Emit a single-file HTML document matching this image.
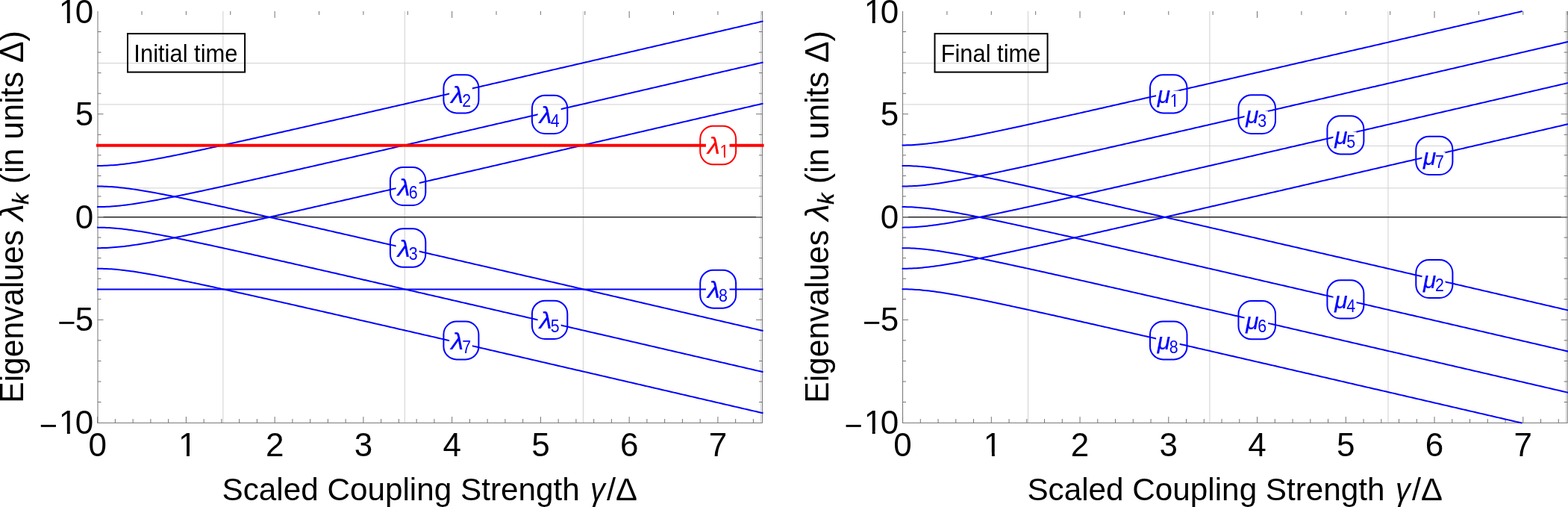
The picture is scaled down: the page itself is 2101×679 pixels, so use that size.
<!DOCTYPE html>
<html><head><meta charset="utf-8"><title>Eigenvalues</title>
<style>html,body{margin:0;padding:0;background:#fff;overflow:hidden}svg{display:block}</style>
</head><body>
<svg width="2101" height="679" viewBox="0 0 2101 679">
<rect width="2101" height="679" fill="#fff"/>
<g stroke="#d0d0d0" stroke-width="1"><line x1="298.89" y1="14.96" x2="298.89" y2="566.10"/><line x1="130.65" y1="251.88" x2="1021.27" y2="251.88"/><line x1="542.31" y1="14.96" x2="542.31" y2="566.10"/><line x1="130.65" y1="195.39" x2="1021.27" y2="195.39"/><line x1="781.37" y1="14.96" x2="781.37" y2="566.10"/><line x1="130.65" y1="139.91" x2="1021.27" y2="139.91"/><line x1="1019.59" y1="14.96" x2="1019.59" y2="566.10"/><line x1="130.65" y1="84.63" x2="1021.27" y2="84.63"/></g>
<line x1="130.65" y1="290.75" x2="1021.27" y2="290.75" stroke="#222" stroke-width="1.3"/>
<g stroke="#737373" stroke-width="1"><line x1="131.00" y1="14.96" x2="131.00" y2="566.10"/><line x1="130.15" y1="566.35" x2="1021.77" y2="566.35"/><line x1="1021.48" y1="14.96" x2="1021.48" y2="566.10"/><line x1="131.00" y1="538.54" x2="135.50" y2="538.54"/><line x1="1021.48" y1="538.54" x2="1016.98" y2="538.54"/><line x1="131.00" y1="510.99" x2="135.50" y2="510.99"/><line x1="1021.48" y1="510.99" x2="1016.98" y2="510.99"/><line x1="131.00" y1="483.43" x2="135.50" y2="483.43"/><line x1="1021.48" y1="483.43" x2="1016.98" y2="483.43"/><line x1="131.00" y1="455.87" x2="135.50" y2="455.87"/><line x1="1021.48" y1="455.87" x2="1016.98" y2="455.87"/><line x1="131.00" y1="428.31" x2="138.50" y2="428.31"/><line x1="1021.48" y1="428.31" x2="1012.98" y2="428.31"/><line x1="131.00" y1="400.76" x2="135.50" y2="400.76"/><line x1="1021.48" y1="400.76" x2="1016.98" y2="400.76"/><line x1="131.00" y1="373.20" x2="135.50" y2="373.20"/><line x1="1021.48" y1="373.20" x2="1016.98" y2="373.20"/><line x1="131.00" y1="345.64" x2="135.50" y2="345.64"/><line x1="1021.48" y1="345.64" x2="1016.98" y2="345.64"/><line x1="131.00" y1="318.09" x2="135.50" y2="318.09"/><line x1="1021.48" y1="318.09" x2="1016.98" y2="318.09"/><line x1="131.00" y1="290.53" x2="138.50" y2="290.53"/><line x1="1021.48" y1="290.53" x2="1012.98" y2="290.53"/><line x1="131.00" y1="262.97" x2="135.50" y2="262.97"/><line x1="1021.48" y1="262.97" x2="1016.98" y2="262.97"/><line x1="131.00" y1="235.42" x2="135.50" y2="235.42"/><line x1="1021.48" y1="235.42" x2="1016.98" y2="235.42"/><line x1="131.00" y1="207.86" x2="135.50" y2="207.86"/><line x1="1021.48" y1="207.86" x2="1016.98" y2="207.86"/><line x1="131.00" y1="180.30" x2="135.50" y2="180.30"/><line x1="1021.48" y1="180.30" x2="1016.98" y2="180.30"/><line x1="131.00" y1="152.74" x2="138.50" y2="152.74"/><line x1="1021.48" y1="152.74" x2="1012.98" y2="152.74"/><line x1="131.00" y1="125.19" x2="135.50" y2="125.19"/><line x1="1021.48" y1="125.19" x2="1016.98" y2="125.19"/><line x1="131.00" y1="97.63" x2="135.50" y2="97.63"/><line x1="1021.48" y1="97.63" x2="1016.98" y2="97.63"/><line x1="131.00" y1="70.07" x2="135.50" y2="70.07"/><line x1="1021.48" y1="70.07" x2="1016.98" y2="70.07"/><line x1="131.00" y1="42.52" x2="135.50" y2="42.52"/><line x1="1021.48" y1="42.52" x2="1016.98" y2="42.52"/><line x1="130.65" y1="566.10" x2="130.65" y2="558.10"/><line x1="154.40" y1="566.10" x2="154.40" y2="561.10"/><line x1="178.15" y1="566.10" x2="178.15" y2="561.10"/><line x1="201.90" y1="566.10" x2="201.90" y2="561.10"/><line x1="225.65" y1="566.10" x2="225.65" y2="561.10"/><line x1="249.40" y1="566.10" x2="249.40" y2="558.10"/><line x1="273.15" y1="566.10" x2="273.15" y2="561.10"/><line x1="296.90" y1="566.10" x2="296.90" y2="561.10"/><line x1="320.65" y1="566.10" x2="320.65" y2="561.10"/><line x1="344.40" y1="566.10" x2="344.40" y2="561.10"/><line x1="368.15" y1="566.10" x2="368.15" y2="558.10"/><line x1="391.90" y1="566.10" x2="391.90" y2="561.10"/><line x1="415.65" y1="566.10" x2="415.65" y2="561.10"/><line x1="439.40" y1="566.10" x2="439.40" y2="561.10"/><line x1="463.15" y1="566.10" x2="463.15" y2="561.10"/><line x1="486.90" y1="566.10" x2="486.90" y2="558.10"/><line x1="510.65" y1="566.10" x2="510.65" y2="561.10"/><line x1="534.40" y1="566.10" x2="534.40" y2="561.10"/><line x1="558.15" y1="566.10" x2="558.15" y2="561.10"/><line x1="581.90" y1="566.10" x2="581.90" y2="561.10"/><line x1="605.65" y1="566.10" x2="605.65" y2="558.10"/><line x1="629.40" y1="566.10" x2="629.40" y2="561.10"/><line x1="653.15" y1="566.10" x2="653.15" y2="561.10"/><line x1="676.90" y1="566.10" x2="676.90" y2="561.10"/><line x1="700.65" y1="566.10" x2="700.65" y2="561.10"/><line x1="724.40" y1="566.10" x2="724.40" y2="558.10"/><line x1="748.15" y1="566.10" x2="748.15" y2="561.10"/><line x1="771.90" y1="566.10" x2="771.90" y2="561.10"/><line x1="795.65" y1="566.10" x2="795.65" y2="561.10"/><line x1="819.40" y1="566.10" x2="819.40" y2="561.10"/><line x1="843.15" y1="566.10" x2="843.15" y2="558.10"/><line x1="866.90" y1="566.10" x2="866.90" y2="561.10"/><line x1="890.65" y1="566.10" x2="890.65" y2="561.10"/><line x1="914.40" y1="566.10" x2="914.40" y2="561.10"/><line x1="938.15" y1="566.10" x2="938.15" y2="561.10"/><line x1="961.90" y1="566.10" x2="961.90" y2="558.10"/><line x1="985.65" y1="566.10" x2="985.65" y2="561.10"/><line x1="1009.40" y1="566.10" x2="1009.40" y2="561.10"/><line x1="190.03" y1="14.96" x2="190.03" y2="19.96"/><line x1="249.40" y1="14.96" x2="249.40" y2="19.96"/><line x1="308.77" y1="14.96" x2="308.77" y2="19.96"/><line x1="368.15" y1="14.96" x2="368.15" y2="23.96"/><line x1="427.52" y1="14.96" x2="427.52" y2="19.96"/><line x1="486.90" y1="14.96" x2="486.90" y2="19.96"/><line x1="546.27" y1="14.96" x2="546.27" y2="19.96"/><line x1="605.65" y1="14.96" x2="605.65" y2="23.96"/><line x1="665.02" y1="14.96" x2="665.02" y2="19.96"/><line x1="724.40" y1="14.96" x2="724.40" y2="19.96"/><line x1="783.77" y1="14.96" x2="783.77" y2="19.96"/><line x1="843.15" y1="14.96" x2="843.15" y2="23.96"/><line x1="902.52" y1="14.96" x2="902.52" y2="19.96"/><line x1="961.90" y1="14.96" x2="961.90" y2="19.96"/><line x1="1021.27" y1="14.96" x2="1021.27" y2="19.96"/></g>
<path d="M130.95,221.96 L133.92,221.94 L136.89,221.89 L139.86,221.80 L142.83,221.68 L145.79,221.53 L148.76,221.35 L151.73,221.14 L154.70,220.90 L157.67,220.63 L160.64,220.33 L163.61,220.01 L166.58,219.67 L169.54,219.30 L172.51,218.92 L175.48,218.51 L178.45,218.09 L181.42,217.65 L184.39,217.20 L187.36,216.73 L190.33,216.25 L193.29,215.76 L196.26,215.25 L199.23,214.74 L202.20,214.21 L205.17,213.68 L208.14,213.14 L211.11,212.59 L214.08,212.03 L217.04,211.47 L220.01,210.90 L222.98,210.32 L225.95,209.74 L228.92,209.15 L231.89,208.56 L234.86,207.96 L237.83,207.36 L240.79,206.76 L243.76,206.15 L246.73,205.54 L249.70,204.93 L252.67,204.31 L255.64,203.69 L258.61,203.06 L261.58,202.44 L264.54,201.81 L267.51,201.18 L270.48,200.55 L273.45,199.91 L276.42,199.28 L279.39,198.64 L282.36,198.00 L285.33,197.35 L288.29,196.71 L291.26,196.06 L294.23,195.42 L297.20,194.77 L300.17,194.12 L303.14,193.47 L306.11,192.82 L309.08,192.16 L312.04,191.51 L315.01,190.86 L317.98,190.20 L320.95,189.54 L323.92,188.88 L326.89,188.23 L329.86,187.57 L332.83,186.90 L335.79,186.24 L338.76,185.58 L341.73,184.92 L344.70,184.26 L347.67,183.59 L350.64,182.93 L353.61,182.26 L356.58,181.60 L359.54,180.93 L362.51,180.26 L365.48,179.59 L368.45,178.93 L371.42,178.26 L374.39,177.59 L377.36,176.92 L380.33,176.25 L383.29,175.58 L386.26,174.91 L389.23,174.24 L392.20,173.56 L395.17,172.89 L398.14,172.22 L401.11,171.55 L404.08,170.87 L407.04,170.20 L410.01,169.53 L412.98,168.85 L415.95,168.18 L418.92,167.50 L421.89,166.83 L424.86,166.15 L427.83,165.48 L430.79,164.80 L433.76,164.13 L436.73,163.45 L439.70,162.77 L442.67,162.10 L445.64,161.42 L448.61,160.74 L451.58,160.07 L454.54,159.39 L457.51,158.71 L460.48,158.03 L463.45,157.36 L466.42,156.68 L469.39,156.00 L472.36,155.32 L475.33,154.64 L478.29,153.96 L481.26,153.28 L484.23,152.60 L487.20,151.92 L490.17,151.25 L493.14,150.57 L496.11,149.89 L499.08,149.21 L502.04,148.53 L505.01,147.84 L507.98,147.16 L510.95,146.48 L513.92,145.80 L516.89,145.12 L519.86,144.44 L522.83,143.76 L525.79,143.08 L528.76,142.40 L531.73,141.72 L534.70,141.03 L537.67,140.35 L540.64,139.67 L543.61,138.99 L546.58,138.31 L549.54,137.63 L552.51,136.94 L555.48,136.26 L558.45,135.58 L561.42,134.90 L564.39,134.21 L567.36,133.53 L570.33,132.85 L573.29,132.17 L576.26,131.48 L579.23,130.80 L582.20,130.12 L585.17,129.43 L588.14,128.75 L591.11,128.07 L594.08,127.38 L597.04,126.70 L600.01,126.02 L602.98,125.33 L605.95,124.65 L608.92,123.97 L611.89,123.28 L614.86,122.60 L617.82,121.92 L620.79,121.23 L623.76,120.55 L626.73,119.86 L629.70,119.18 L632.67,118.50 L635.64,117.81 L638.61,117.13 L641.58,116.44 L644.54,115.76 L647.51,115.07 L650.48,114.39 L653.45,113.70 L656.42,113.02 L659.39,112.34 L662.36,111.65 L665.33,110.97 L668.29,110.28 L671.26,109.60 L674.23,108.91 L677.20,108.23 L680.17,107.54 L683.14,106.86 L686.11,106.17 L689.08,105.49 L692.04,104.80 L695.01,104.12 L697.98,103.43 L700.95,102.75 L703.92,102.06 L706.89,101.38 L709.86,100.69 L712.83,100.01 L715.79,99.32 L718.76,98.63 L721.73,97.95 L724.70,97.26 L727.67,96.58 L730.64,95.89 L733.61,95.21 L736.58,94.52 L739.54,93.84 L742.51,93.15 L745.48,92.46 L748.45,91.78 L751.42,91.09 L754.39,90.41 L757.36,89.72 L760.33,89.04 L763.29,88.35 L766.26,87.66 L769.23,86.98 L772.20,86.29 L775.17,85.61 L778.14,84.92 L781.11,84.23 L784.08,83.55 L787.04,82.86 L790.01,82.18 L792.98,81.49 L795.95,80.80 L798.92,80.12 L801.89,79.43 L804.86,78.74 L807.83,78.06 L810.79,77.37 L813.76,76.69 L816.73,76.00 L819.70,75.31 L822.67,74.63 L825.64,73.94 L828.61,73.25 L831.58,72.57 L834.54,71.88 L837.51,71.19 L840.48,70.51 L843.45,69.82 L846.42,69.13 L849.39,68.45 L852.36,67.76 L855.33,67.07 L858.29,66.39 L861.26,65.70 L864.23,65.01 L867.20,64.33 L870.17,63.64 L873.14,62.95 L876.11,62.27 L879.08,61.58 L882.04,60.89 L885.01,60.21 L887.98,59.52 L890.95,58.83 L893.92,58.15 L896.89,57.46 L899.86,56.77 L902.83,56.09 L905.79,55.40 L908.76,54.71 L911.73,54.03 L914.70,53.34 L917.67,52.65 L920.64,51.96 L923.61,51.28 L926.58,50.59 L929.54,49.90 L932.51,49.22 L935.48,48.53 L938.45,47.84 L941.42,47.16 L944.39,46.47 L947.36,45.78 L950.33,45.09 L953.29,44.41 L956.26,43.72 L959.23,43.03 L962.20,42.35 L965.17,41.66 L968.14,40.97 L971.11,40.28 L974.08,39.60 L977.04,38.91 L980.01,38.22 L982.98,37.54 L985.95,36.85 L988.92,36.16 L991.89,35.47 L994.86,34.79 L997.83,34.10 L1000.79,33.41 L1003.76,32.72 L1006.73,32.04 L1009.70,31.35 L1012.67,30.66 L1015.64,29.97 L1018.61,29.29 L1021.58,28.60" fill="none" stroke="#0000ff" stroke-width="2" stroke-linejoin="round" stroke-linecap="square"/>
<path d="M130.95,249.51 L133.92,249.53 L136.89,249.58 L139.86,249.67 L142.83,249.79 L145.79,249.94 L148.76,250.12 L151.73,250.33 L154.70,250.58 L157.67,250.85 L160.64,251.14 L163.61,251.46 L166.58,251.80 L169.54,252.17 L172.51,252.55 L175.48,252.96 L178.45,253.38 L181.42,253.82 L184.39,254.27 L187.36,254.74 L190.33,255.22 L193.29,255.71 L196.26,256.22 L199.23,256.73 L202.20,257.26 L205.17,257.79 L208.14,258.33 L211.11,258.88 L214.08,259.44 L217.04,260.01 L220.01,260.58 L222.98,261.15 L225.95,261.73 L228.92,262.32 L231.89,262.91 L234.86,263.51 L237.83,264.11 L240.79,264.71 L243.76,265.32 L246.73,265.93 L249.70,266.55 L252.67,267.16 L255.64,267.78 L258.61,268.41 L261.58,269.03 L264.54,269.66 L267.51,270.29 L270.48,270.93 L273.45,271.56 L276.42,272.20 L279.39,272.84 L282.36,273.48 L285.33,274.12 L288.29,274.76 L291.26,275.41 L294.23,276.05 L297.20,276.70 L300.17,277.35 L303.14,278.00 L306.11,278.65 L309.08,279.31 L312.04,279.96 L315.01,280.62 L317.98,281.27 L320.95,281.93 L323.92,282.59 L326.89,283.25 L329.86,283.91 L332.83,284.57 L335.79,285.23 L338.76,285.89 L341.73,286.55 L344.70,287.22 L347.67,287.88 L350.64,288.55 L353.61,289.21 L356.58,289.88 L359.54,290.54 L362.51,291.21 L365.48,291.88 L368.45,292.55 L371.42,293.21 L374.39,293.88 L377.36,294.55 L380.33,295.22 L383.29,295.89 L386.26,296.56 L389.23,297.24 L392.20,297.91 L395.17,298.58 L398.14,299.25 L401.11,299.92 L404.08,300.60 L407.04,301.27 L410.01,301.94 L412.98,302.62 L415.95,303.29 L418.92,303.97 L421.89,304.64 L424.86,305.32 L427.83,305.99 L430.79,306.67 L433.76,307.34 L436.73,308.02 L439.70,308.70 L442.67,309.37 L445.64,310.05 L448.61,310.73 L451.58,311.40 L454.54,312.08 L457.51,312.76 L460.48,313.44 L463.45,314.12 L466.42,314.79 L469.39,315.47 L472.36,316.15 L475.33,316.83 L478.29,317.51 L481.26,318.19 L484.23,318.87 L487.20,319.55 L490.17,320.23 L493.14,320.91 L496.11,321.59 L499.08,322.27 L502.04,322.95 L505.01,323.63 L507.98,324.31 L510.95,324.99 L513.92,325.67 L516.89,326.35 L519.86,327.03 L522.83,327.71 L525.79,328.39 L528.76,329.07 L531.73,329.76 L534.70,330.44 L537.67,331.12 L540.64,331.80 L543.61,332.48 L546.58,333.16 L549.54,333.85 L552.51,334.53 L555.48,335.21 L558.45,335.89 L561.42,336.58 L564.39,337.26 L567.36,337.94 L570.33,338.62 L573.29,339.31 L576.26,339.99 L579.23,340.67 L582.20,341.36 L585.17,342.04 L588.14,342.72 L591.11,343.40 L594.08,344.09 L597.04,344.77 L600.01,345.45 L602.98,346.14 L605.95,346.82 L608.92,347.51 L611.89,348.19 L614.86,348.87 L617.82,349.56 L620.79,350.24 L623.76,350.92 L626.73,351.61 L629.70,352.29 L632.67,352.98 L635.64,353.66 L638.61,354.35 L641.58,355.03 L644.54,355.71 L647.51,356.40 L650.48,357.08 L653.45,357.77 L656.42,358.45 L659.39,359.14 L662.36,359.82 L665.33,360.51 L668.29,361.19 L671.26,361.88 L674.23,362.56 L677.20,363.24 L680.17,363.93 L683.14,364.61 L686.11,365.30 L689.08,365.98 L692.04,366.67 L695.01,367.35 L697.98,368.04 L700.95,368.73 L703.92,369.41 L706.89,370.10 L709.86,370.78 L712.83,371.47 L715.79,372.15 L718.76,372.84 L721.73,373.52 L724.70,374.21 L727.67,374.89 L730.64,375.58 L733.61,376.26 L736.58,376.95 L739.54,377.64 L742.51,378.32 L745.48,379.01 L748.45,379.69 L751.42,380.38 L754.39,381.06 L757.36,381.75 L760.33,382.44 L763.29,383.12 L766.26,383.81 L769.23,384.49 L772.20,385.18 L775.17,385.87 L778.14,386.55 L781.11,387.24 L784.08,387.92 L787.04,388.61 L790.01,389.30 L792.98,389.98 L795.95,390.67 L798.92,391.36 L801.89,392.04 L804.86,392.73 L807.83,393.41 L810.79,394.10 L813.76,394.79 L816.73,395.47 L819.70,396.16 L822.67,396.85 L825.64,397.53 L828.61,398.22 L831.58,398.91 L834.54,399.59 L837.51,400.28 L840.48,400.96 L843.45,401.65 L846.42,402.34 L849.39,403.02 L852.36,403.71 L855.33,404.40 L858.29,405.08 L861.26,405.77 L864.23,406.46 L867.20,407.14 L870.17,407.83 L873.14,408.52 L876.11,409.20 L879.08,409.89 L882.04,410.58 L885.01,411.26 L887.98,411.95 L890.95,412.64 L893.92,413.33 L896.89,414.01 L899.86,414.70 L902.83,415.39 L905.79,416.07 L908.76,416.76 L911.73,417.45 L914.70,418.13 L917.67,418.82 L920.64,419.51 L923.61,420.19 L926.58,420.88 L929.54,421.57 L932.51,422.26 L935.48,422.94 L938.45,423.63 L941.42,424.32 L944.39,425.00 L947.36,425.69 L950.33,426.38 L953.29,427.06 L956.26,427.75 L959.23,428.44 L962.20,429.13 L965.17,429.81 L968.14,430.50 L971.11,431.19 L974.08,431.88 L977.04,432.56 L980.01,433.25 L982.98,433.94 L985.95,434.62 L988.92,435.31 L991.89,436.00 L994.86,436.69 L997.83,437.37 L1000.79,438.06 L1003.76,438.75 L1006.73,439.44 L1009.70,440.12 L1012.67,440.81 L1015.64,441.50 L1018.61,442.18 L1021.58,442.87" fill="none" stroke="#0000ff" stroke-width="2" stroke-linejoin="round" stroke-linecap="square"/>
<path d="M130.95,277.07 L133.92,277.05 L136.89,277.00 L139.86,276.92 L142.83,276.80 L145.79,276.65 L148.76,276.46 L151.73,276.25 L154.70,276.01 L157.67,275.74 L160.64,275.45 L163.61,275.12 L166.58,274.78 L169.54,274.42 L172.51,274.03 L175.48,273.63 L178.45,273.20 L181.42,272.77 L184.39,272.31 L187.36,271.85 L190.33,271.36 L193.29,270.87 L196.26,270.37 L199.23,269.85 L202.20,269.33 L205.17,268.79 L208.14,268.25 L211.11,267.70 L214.08,267.14 L217.04,266.58 L220.01,266.01 L222.98,265.43 L225.95,264.85 L228.92,264.27 L231.89,263.67 L234.86,263.08 L237.83,262.48 L240.79,261.87 L243.76,261.27 L246.73,260.65 L249.70,260.04 L252.67,259.42 L255.64,258.80 L258.61,258.18 L261.58,257.55 L264.54,256.92 L267.51,256.29 L270.48,255.66 L273.45,255.03 L276.42,254.39 L279.39,253.75 L282.36,253.11 L285.33,252.47 L288.29,251.82 L291.26,251.18 L294.23,250.53 L297.20,249.88 L300.17,249.23 L303.14,248.58 L306.11,247.93 L309.08,247.28 L312.04,246.62 L315.01,245.97 L317.98,245.31 L320.95,244.66 L323.92,244.00 L326.89,243.34 L329.86,242.68 L332.83,242.02 L335.79,241.36 L338.76,240.70 L341.73,240.03 L344.70,239.37 L347.67,238.71 L350.64,238.04 L353.61,237.38 L356.58,236.71 L359.54,236.04 L362.51,235.38 L365.48,234.71 L368.45,234.04 L371.42,233.37 L374.39,232.70 L377.36,232.03 L380.33,231.36 L383.29,230.69 L386.26,230.02 L389.23,229.35 L392.20,228.68 L395.17,228.01 L398.14,227.33 L401.11,226.66 L404.08,225.99 L407.04,225.32 L410.01,224.64 L412.98,223.97 L415.95,223.29 L418.92,222.62 L421.89,221.94 L424.86,221.27 L427.83,220.59 L430.79,219.92 L433.76,219.24 L436.73,218.57 L439.70,217.89 L442.67,217.21 L445.64,216.54 L448.61,215.86 L451.58,215.18 L454.54,214.50 L457.51,213.83 L460.48,213.15 L463.45,212.47 L466.42,211.79 L469.39,211.11 L472.36,210.43 L475.33,209.76 L478.29,209.08 L481.26,208.40 L484.23,207.72 L487.20,207.04 L490.17,206.36 L493.14,205.68 L496.11,205.00 L499.08,204.32 L502.04,203.64 L505.01,202.96 L507.98,202.28 L510.95,201.60 L513.92,200.92 L516.89,200.24 L519.86,199.56 L522.83,198.87 L525.79,198.19 L528.76,197.51 L531.73,196.83 L534.70,196.15 L537.67,195.47 L540.64,194.79 L543.61,194.10 L546.58,193.42 L549.54,192.74 L552.51,192.06 L555.48,191.37 L558.45,190.69 L561.42,190.01 L564.39,189.33 L567.36,188.65 L570.33,187.96 L573.29,187.28 L576.26,186.60 L579.23,185.91 L582.20,185.23 L585.17,184.55 L588.14,183.86 L591.11,183.18 L594.08,182.50 L597.04,181.81 L600.01,181.13 L602.98,180.45 L605.95,179.76 L608.92,179.08 L611.89,178.40 L614.86,177.71 L617.82,177.03 L620.79,176.35 L623.76,175.66 L626.73,174.98 L629.70,174.29 L632.67,173.61 L635.64,172.93 L638.61,172.24 L641.58,171.56 L644.54,170.87 L647.51,170.19 L650.48,169.50 L653.45,168.82 L656.42,168.13 L659.39,167.45 L662.36,166.77 L665.33,166.08 L668.29,165.40 L671.26,164.71 L674.23,164.03 L677.20,163.34 L680.17,162.66 L683.14,161.97 L686.11,161.29 L689.08,160.60 L692.04,159.92 L695.01,159.23 L697.98,158.55 L700.95,157.86 L703.92,157.18 L706.89,156.49 L709.86,155.80 L712.83,155.12 L715.79,154.43 L718.76,153.75 L721.73,153.06 L724.70,152.38 L727.67,151.69 L730.64,151.01 L733.61,150.32 L736.58,149.64 L739.54,148.95 L742.51,148.26 L745.48,147.58 L748.45,146.89 L751.42,146.21 L754.39,145.52 L757.36,144.84 L760.33,144.15 L763.29,143.46 L766.26,142.78 L769.23,142.09 L772.20,141.41 L775.17,140.72 L778.14,140.03 L781.11,139.35 L784.08,138.66 L787.04,137.98 L790.01,137.29 L792.98,136.60 L795.95,135.92 L798.92,135.23 L801.89,134.54 L804.86,133.86 L807.83,133.17 L810.79,132.49 L813.76,131.80 L816.73,131.11 L819.70,130.43 L822.67,129.74 L825.64,129.05 L828.61,128.37 L831.58,127.68 L834.54,126.99 L837.51,126.31 L840.48,125.62 L843.45,124.93 L846.42,124.25 L849.39,123.56 L852.36,122.88 L855.33,122.19 L858.29,121.50 L861.26,120.82 L864.23,120.13 L867.20,119.44 L870.17,118.76 L873.14,118.07 L876.11,117.38 L879.08,116.69 L882.04,116.01 L885.01,115.32 L887.98,114.63 L890.95,113.95 L893.92,113.26 L896.89,112.57 L899.86,111.89 L902.83,111.20 L905.79,110.51 L908.76,109.83 L911.73,109.14 L914.70,108.45 L917.67,107.77 L920.64,107.08 L923.61,106.39 L926.58,105.70 L929.54,105.02 L932.51,104.33 L935.48,103.64 L938.45,102.96 L941.42,102.27 L944.39,101.58 L947.36,100.90 L950.33,100.21 L953.29,99.52 L956.26,98.83 L959.23,98.15 L962.20,97.46 L965.17,96.77 L968.14,96.09 L971.11,95.40 L974.08,94.71 L977.04,94.02 L980.01,93.34 L982.98,92.65 L985.95,91.96 L988.92,91.27 L991.89,90.59 L994.86,89.90 L997.83,89.21 L1000.79,88.53 L1003.76,87.84 L1006.73,87.15 L1009.70,86.46 L1012.67,85.78 L1015.64,85.09 L1018.61,84.40 L1021.58,83.71" fill="none" stroke="#0000ff" stroke-width="2" stroke-linejoin="round" stroke-linecap="square"/>
<path d="M130.95,304.63 L133.92,304.65 L136.89,304.70 L139.86,304.78 L142.83,304.90 L145.79,305.05 L148.76,305.24 L151.73,305.45 L154.70,305.69 L157.67,305.96 L160.64,306.25 L163.61,306.58 L166.58,306.92 L169.54,307.28 L172.51,307.67 L175.48,308.07 L178.45,308.50 L181.42,308.93 L184.39,309.39 L187.36,309.85 L190.33,310.34 L193.29,310.83 L196.26,311.33 L199.23,311.85 L202.20,312.37 L205.17,312.91 L208.14,313.45 L211.11,314.00 L214.08,314.56 L217.04,315.12 L220.01,315.69 L222.98,316.27 L225.95,316.85 L228.92,317.43 L231.89,318.03 L234.86,318.62 L237.83,319.22 L240.79,319.83 L243.76,320.43 L246.73,321.05 L249.70,321.66 L252.67,322.28 L255.64,322.90 L258.61,323.52 L261.58,324.15 L264.54,324.78 L267.51,325.41 L270.48,326.04 L273.45,326.67 L276.42,327.31 L279.39,327.95 L282.36,328.59 L285.33,329.23 L288.29,329.88 L291.26,330.52 L294.23,331.17 L297.20,331.82 L300.17,332.47 L303.14,333.12 L306.11,333.77 L309.08,334.42 L312.04,335.08 L315.01,335.73 L317.98,336.39 L320.95,337.04 L323.92,337.70 L326.89,338.36 L329.86,339.02 L332.83,339.68 L335.79,340.34 L338.76,341.00 L341.73,341.67 L344.70,342.33 L347.67,342.99 L350.64,343.66 L353.61,344.32 L356.58,344.99 L359.54,345.66 L362.51,346.32 L365.48,346.99 L368.45,347.66 L371.42,348.33 L374.39,349.00 L377.36,349.67 L380.33,350.34 L383.29,351.01 L386.26,351.68 L389.23,352.35 L392.20,353.02 L395.17,353.69 L398.14,354.37 L401.11,355.04 L404.08,355.71 L407.04,356.38 L410.01,357.06 L412.98,357.73 L415.95,358.41 L418.92,359.08 L421.89,359.76 L424.86,360.43 L427.83,361.11 L430.79,361.78 L433.76,362.46 L436.73,363.13 L439.70,363.81 L442.67,364.49 L445.64,365.16 L448.61,365.84 L451.58,366.52 L454.54,367.20 L457.51,367.87 L460.48,368.55 L463.45,369.23 L466.42,369.91 L469.39,370.59 L472.36,371.27 L475.33,371.94 L478.29,372.62 L481.26,373.30 L484.23,373.98 L487.20,374.66 L490.17,375.34 L493.14,376.02 L496.11,376.70 L499.08,377.38 L502.04,378.06 L505.01,378.74 L507.98,379.42 L510.95,380.10 L513.92,380.78 L516.89,381.46 L519.86,382.14 L522.83,382.83 L525.79,383.51 L528.76,384.19 L531.73,384.87 L534.70,385.55 L537.67,386.23 L540.64,386.91 L543.61,387.60 L546.58,388.28 L549.54,388.96 L552.51,389.64 L555.48,390.33 L558.45,391.01 L561.42,391.69 L564.39,392.37 L567.36,393.05 L570.33,393.74 L573.29,394.42 L576.26,395.10 L579.23,395.79 L582.20,396.47 L585.17,397.15 L588.14,397.84 L591.11,398.52 L594.08,399.20 L597.04,399.89 L600.01,400.57 L602.98,401.25 L605.95,401.94 L608.92,402.62 L611.89,403.30 L614.86,403.99 L617.82,404.67 L620.79,405.35 L623.76,406.04 L626.73,406.72 L629.70,407.41 L632.67,408.09 L635.64,408.77 L638.61,409.46 L641.58,410.14 L644.54,410.83 L647.51,411.51 L650.48,412.20 L653.45,412.88 L656.42,413.57 L659.39,414.25 L662.36,414.93 L665.33,415.62 L668.29,416.30 L671.26,416.99 L674.23,417.67 L677.20,418.36 L680.17,419.04 L683.14,419.73 L686.11,420.41 L689.08,421.10 L692.04,421.78 L695.01,422.47 L697.98,423.15 L700.95,423.84 L703.92,424.52 L706.89,425.21 L709.86,425.90 L712.83,426.58 L715.79,427.27 L718.76,427.95 L721.73,428.64 L724.70,429.32 L727.67,430.01 L730.64,430.69 L733.61,431.38 L736.58,432.06 L739.54,432.75 L742.51,433.44 L745.48,434.12 L748.45,434.81 L751.42,435.49 L754.39,436.18 L757.36,436.86 L760.33,437.55 L763.29,438.24 L766.26,438.92 L769.23,439.61 L772.20,440.29 L775.17,440.98 L778.14,441.67 L781.11,442.35 L784.08,443.04 L787.04,443.72 L790.01,444.41 L792.98,445.10 L795.95,445.78 L798.92,446.47 L801.89,447.16 L804.86,447.84 L807.83,448.53 L810.79,449.21 L813.76,449.90 L816.73,450.59 L819.70,451.27 L822.67,451.96 L825.64,452.65 L828.61,453.33 L831.58,454.02 L834.54,454.71 L837.51,455.39 L840.48,456.08 L843.45,456.77 L846.42,457.45 L849.39,458.14 L852.36,458.82 L855.33,459.51 L858.29,460.20 L861.26,460.88 L864.23,461.57 L867.20,462.26 L870.17,462.94 L873.14,463.63 L876.11,464.32 L879.08,465.01 L882.04,465.69 L885.01,466.38 L887.98,467.07 L890.95,467.75 L893.92,468.44 L896.89,469.13 L899.86,469.81 L902.83,470.50 L905.79,471.19 L908.76,471.87 L911.73,472.56 L914.70,473.25 L917.67,473.93 L920.64,474.62 L923.61,475.31 L926.58,476.00 L929.54,476.68 L932.51,477.37 L935.48,478.06 L938.45,478.74 L941.42,479.43 L944.39,480.12 L947.36,480.80 L950.33,481.49 L953.29,482.18 L956.26,482.87 L959.23,483.55 L962.20,484.24 L965.17,484.93 L968.14,485.61 L971.11,486.30 L974.08,486.99 L977.04,487.68 L980.01,488.36 L982.98,489.05 L985.95,489.74 L988.92,490.43 L991.89,491.11 L994.86,491.80 L997.83,492.49 L1000.79,493.17 L1003.76,493.86 L1006.73,494.55 L1009.70,495.24 L1012.67,495.92 L1015.64,496.61 L1018.61,497.30 L1021.58,497.99" fill="none" stroke="#0000ff" stroke-width="2" stroke-linejoin="round" stroke-linecap="square"/>
<path d="M130.95,332.19 L133.92,332.17 L136.89,332.12 L139.86,332.03 L142.83,331.91 L145.79,331.76 L148.76,331.58 L151.73,331.37 L154.70,331.12 L157.67,330.85 L160.64,330.56 L163.61,330.24 L166.58,329.90 L169.54,329.53 L172.51,329.15 L175.48,328.74 L178.45,328.32 L181.42,327.88 L184.39,327.43 L187.36,326.96 L190.33,326.48 L193.29,325.99 L196.26,325.48 L199.23,324.97 L202.20,324.44 L205.17,323.91 L208.14,323.37 L211.11,322.82 L214.08,322.26 L217.04,321.69 L220.01,321.12 L222.98,320.55 L225.95,319.97 L228.92,319.38 L231.89,318.79 L234.86,318.19 L237.83,317.59 L240.79,316.99 L243.76,316.38 L246.73,315.77 L249.70,315.15 L252.67,314.54 L255.64,313.92 L258.61,313.29 L261.58,312.67 L264.54,312.04 L267.51,311.41 L270.48,310.77 L273.45,310.14 L276.42,309.50 L279.39,308.86 L282.36,308.22 L285.33,307.58 L288.29,306.94 L291.26,306.29 L294.23,305.65 L297.20,305.00 L300.17,304.35 L303.14,303.70 L306.11,303.05 L309.08,302.39 L312.04,301.74 L315.01,301.08 L317.98,300.43 L320.95,299.77 L323.92,299.11 L326.89,298.45 L329.86,297.79 L332.83,297.13 L335.79,296.47 L338.76,295.81 L341.73,295.15 L344.70,294.48 L347.67,293.82 L350.64,293.15 L353.61,292.49 L356.58,291.82 L359.54,291.16 L362.51,290.49 L365.48,289.82 L368.45,289.15 L371.42,288.49 L374.39,287.82 L377.36,287.15 L380.33,286.48 L383.29,285.81 L386.26,285.14 L389.23,284.46 L392.20,283.79 L395.17,283.12 L398.14,282.45 L401.11,281.78 L404.08,281.10 L407.04,280.43 L410.01,279.76 L412.98,279.08 L415.95,278.41 L418.92,277.73 L421.89,277.06 L424.86,276.38 L427.83,275.71 L430.79,275.03 L433.76,274.36 L436.73,273.68 L439.70,273.00 L442.67,272.33 L445.64,271.65 L448.61,270.97 L451.58,270.30 L454.54,269.62 L457.51,268.94 L460.48,268.26 L463.45,267.58 L466.42,266.91 L469.39,266.23 L472.36,265.55 L475.33,264.87 L478.29,264.19 L481.26,263.51 L484.23,262.83 L487.20,262.15 L490.17,261.47 L493.14,260.79 L496.11,260.11 L499.08,259.43 L502.04,258.75 L505.01,258.07 L507.98,257.39 L510.95,256.71 L513.92,256.03 L516.89,255.35 L519.86,254.67 L522.83,253.99 L525.79,253.31 L528.76,252.63 L531.73,251.94 L534.70,251.26 L537.67,250.58 L540.64,249.90 L543.61,249.22 L546.58,248.54 L549.54,247.85 L552.51,247.17 L555.48,246.49 L558.45,245.81 L561.42,245.12 L564.39,244.44 L567.36,243.76 L570.33,243.08 L573.29,242.39 L576.26,241.71 L579.23,241.03 L582.20,240.34 L585.17,239.66 L588.14,238.98 L591.11,238.30 L594.08,237.61 L597.04,236.93 L600.01,236.25 L602.98,235.56 L605.95,234.88 L608.92,234.19 L611.89,233.51 L614.86,232.83 L617.82,232.14 L620.79,231.46 L623.76,230.78 L626.73,230.09 L629.70,229.41 L632.67,228.72 L635.64,228.04 L638.61,227.35 L641.58,226.67 L644.54,225.99 L647.51,225.30 L650.48,224.62 L653.45,223.93 L656.42,223.25 L659.39,222.56 L662.36,221.88 L665.33,221.19 L668.29,220.51 L671.26,219.82 L674.23,219.14 L677.20,218.46 L680.17,217.77 L683.14,217.09 L686.11,216.40 L689.08,215.72 L692.04,215.03 L695.01,214.35 L697.98,213.66 L700.95,212.97 L703.92,212.29 L706.89,211.60 L709.86,210.92 L712.83,210.23 L715.79,209.55 L718.76,208.86 L721.73,208.18 L724.70,207.49 L727.67,206.81 L730.64,206.12 L733.61,205.44 L736.58,204.75 L739.54,204.06 L742.51,203.38 L745.48,202.69 L748.45,202.01 L751.42,201.32 L754.39,200.64 L757.36,199.95 L760.33,199.26 L763.29,198.58 L766.26,197.89 L769.23,197.21 L772.20,196.52 L775.17,195.83 L778.14,195.15 L781.11,194.46 L784.08,193.78 L787.04,193.09 L790.01,192.40 L792.98,191.72 L795.95,191.03 L798.92,190.34 L801.89,189.66 L804.86,188.97 L807.83,188.29 L810.79,187.60 L813.76,186.91 L816.73,186.23 L819.70,185.54 L822.67,184.85 L825.64,184.17 L828.61,183.48 L831.58,182.79 L834.54,182.11 L837.51,181.42 L840.48,180.74 L843.45,180.05 L846.42,179.36 L849.39,178.68 L852.36,177.99 L855.33,177.30 L858.29,176.62 L861.26,175.93 L864.23,175.24 L867.20,174.56 L870.17,173.87 L873.14,173.18 L876.11,172.50 L879.08,171.81 L882.04,171.12 L885.01,170.44 L887.98,169.75 L890.95,169.06 L893.92,168.37 L896.89,167.69 L899.86,167.00 L902.83,166.31 L905.79,165.63 L908.76,164.94 L911.73,164.25 L914.70,163.57 L917.67,162.88 L920.64,162.19 L923.61,161.51 L926.58,160.82 L929.54,160.13 L932.51,159.44 L935.48,158.76 L938.45,158.07 L941.42,157.38 L944.39,156.70 L947.36,156.01 L950.33,155.32 L953.29,154.64 L956.26,153.95 L959.23,153.26 L962.20,152.57 L965.17,151.89 L968.14,151.20 L971.11,150.51 L974.08,149.82 L977.04,149.14 L980.01,148.45 L982.98,147.76 L985.95,147.08 L988.92,146.39 L991.89,145.70 L994.86,145.01 L997.83,144.33 L1000.79,143.64 L1003.76,142.95 L1006.73,142.26 L1009.70,141.58 L1012.67,140.89 L1015.64,140.20 L1018.61,139.52 L1021.58,138.83" fill="none" stroke="#0000ff" stroke-width="2" stroke-linejoin="round" stroke-linecap="square"/>
<path d="M130.95,359.74 L133.92,359.76 L136.89,359.81 L139.86,359.90 L142.83,360.02 L145.79,360.17 L148.76,360.35 L151.73,360.56 L154.70,360.80 L157.67,361.07 L160.64,361.37 L163.61,361.69 L166.58,362.03 L169.54,362.40 L172.51,362.78 L175.48,363.19 L178.45,363.61 L181.42,364.05 L184.39,364.50 L187.36,364.97 L190.33,365.45 L193.29,365.94 L196.26,366.45 L199.23,366.96 L202.20,367.49 L205.17,368.02 L208.14,368.56 L211.11,369.11 L214.08,369.67 L217.04,370.23 L220.01,370.80 L222.98,371.38 L225.95,371.96 L228.92,372.55 L231.89,373.14 L234.86,373.74 L237.83,374.34 L240.79,374.94 L243.76,375.55 L246.73,376.16 L249.70,376.77 L252.67,377.39 L255.64,378.01 L258.61,378.64 L261.58,379.26 L264.54,379.89 L267.51,380.52 L270.48,381.15 L273.45,381.79 L276.42,382.42 L279.39,383.06 L282.36,383.70 L285.33,384.35 L288.29,384.99 L291.26,385.64 L294.23,386.28 L297.20,386.93 L300.17,387.58 L303.14,388.23 L306.11,388.88 L309.08,389.54 L312.04,390.19 L315.01,390.84 L317.98,391.50 L320.95,392.16 L323.92,392.82 L326.89,393.47 L329.86,394.13 L332.83,394.80 L335.79,395.46 L338.76,396.12 L341.73,396.78 L344.70,397.44 L347.67,398.11 L350.64,398.77 L353.61,399.44 L356.58,400.10 L359.54,400.77 L362.51,401.44 L365.48,402.11 L368.45,402.77 L371.42,403.44 L374.39,404.11 L377.36,404.78 L380.33,405.45 L383.29,406.12 L386.26,406.79 L389.23,407.46 L392.20,408.14 L395.17,408.81 L398.14,409.48 L401.11,410.15 L404.08,410.83 L407.04,411.50 L410.01,412.17 L412.98,412.85 L415.95,413.52 L418.92,414.20 L421.89,414.87 L424.86,415.55 L427.83,416.22 L430.79,416.90 L433.76,417.57 L436.73,418.25 L439.70,418.93 L442.67,419.60 L445.64,420.28 L448.61,420.96 L451.58,421.63 L454.54,422.31 L457.51,422.99 L460.48,423.67 L463.45,424.34 L466.42,425.02 L469.39,425.70 L472.36,426.38 L475.33,427.06 L478.29,427.74 L481.26,428.42 L484.23,429.10 L487.20,429.78 L490.17,430.45 L493.14,431.13 L496.11,431.81 L499.08,432.49 L502.04,433.17 L505.01,433.86 L507.98,434.54 L510.95,435.22 L513.92,435.90 L516.89,436.58 L519.86,437.26 L522.83,437.94 L525.79,438.62 L528.76,439.30 L531.73,439.98 L534.70,440.67 L537.67,441.35 L540.64,442.03 L543.61,442.71 L546.58,443.39 L549.54,444.07 L552.51,444.76 L555.48,445.44 L558.45,446.12 L561.42,446.80 L564.39,447.49 L567.36,448.17 L570.33,448.85 L573.29,449.53 L576.26,450.22 L579.23,450.90 L582.20,451.58 L585.17,452.27 L588.14,452.95 L591.11,453.63 L594.08,454.32 L597.04,455.00 L600.01,455.68 L602.98,456.37 L605.95,457.05 L608.92,457.73 L611.89,458.42 L614.86,459.10 L617.82,459.78 L620.79,460.47 L623.76,461.15 L626.73,461.84 L629.70,462.52 L632.67,463.20 L635.64,463.89 L638.61,464.57 L641.58,465.26 L644.54,465.94 L647.51,466.63 L650.48,467.31 L653.45,468.00 L656.42,468.68 L659.39,469.36 L662.36,470.05 L665.33,470.73 L668.29,471.42 L671.26,472.10 L674.23,472.79 L677.20,473.47 L680.17,474.16 L683.14,474.84 L686.11,475.53 L689.08,476.21 L692.04,476.90 L695.01,477.58 L697.98,478.27 L700.95,478.95 L703.92,479.64 L706.89,480.32 L709.86,481.01 L712.83,481.69 L715.79,482.38 L718.76,483.07 L721.73,483.75 L724.70,484.44 L727.67,485.12 L730.64,485.81 L733.61,486.49 L736.58,487.18 L739.54,487.86 L742.51,488.55 L745.48,489.24 L748.45,489.92 L751.42,490.61 L754.39,491.29 L757.36,491.98 L760.33,492.66 L763.29,493.35 L766.26,494.04 L769.23,494.72 L772.20,495.41 L775.17,496.09 L778.14,496.78 L781.11,497.47 L784.08,498.15 L787.04,498.84 L790.01,499.52 L792.98,500.21 L795.95,500.90 L798.92,501.58 L801.89,502.27 L804.86,502.96 L807.83,503.64 L810.79,504.33 L813.76,505.01 L816.73,505.70 L819.70,506.39 L822.67,507.07 L825.64,507.76 L828.61,508.45 L831.58,509.13 L834.54,509.82 L837.51,510.51 L840.48,511.19 L843.45,511.88 L846.42,512.57 L849.39,513.25 L852.36,513.94 L855.33,514.63 L858.29,515.31 L861.26,516.00 L864.23,516.69 L867.20,517.37 L870.17,518.06 L873.14,518.75 L876.11,519.43 L879.08,520.12 L882.04,520.81 L885.01,521.49 L887.98,522.18 L890.95,522.87 L893.92,523.55 L896.89,524.24 L899.86,524.93 L902.83,525.61 L905.79,526.30 L908.76,526.99 L911.73,527.67 L914.70,528.36 L917.67,529.05 L920.64,529.74 L923.61,530.42 L926.58,531.11 L929.54,531.80 L932.51,532.48 L935.48,533.17 L938.45,533.86 L941.42,534.54 L944.39,535.23 L947.36,535.92 L950.33,536.61 L953.29,537.29 L956.26,537.98 L959.23,538.67 L962.20,539.35 L965.17,540.04 L968.14,540.73 L971.11,541.42 L974.08,542.10 L977.04,542.79 L980.01,543.48 L982.98,544.16 L985.95,544.85 L988.92,545.54 L991.89,546.23 L994.86,546.91 L997.83,547.60 L1000.79,548.29 L1003.76,548.98 L1006.73,549.66 L1009.70,550.35 L1012.67,551.04 L1015.64,551.73 L1018.61,552.41 L1021.58,553.10" fill="none" stroke="#0000ff" stroke-width="2" stroke-linejoin="round" stroke-linecap="square"/>
<path d="M130.95,387.60 L133.92,387.60 L136.89,387.60 L139.86,387.60 L142.83,387.60 L145.79,387.60 L148.76,387.60 L151.73,387.60 L154.70,387.60 L157.67,387.60 L160.64,387.60 L163.61,387.60 L166.58,387.60 L169.54,387.60 L172.51,387.60 L175.48,387.60 L178.45,387.60 L181.42,387.60 L184.39,387.60 L187.36,387.60 L190.33,387.60 L193.29,387.60 L196.26,387.60 L199.23,387.60 L202.20,387.60 L205.17,387.60 L208.14,387.60 L211.11,387.60 L214.08,387.60 L217.04,387.60 L220.01,387.60 L222.98,387.60 L225.95,387.60 L228.92,387.60 L231.89,387.60 L234.86,387.60 L237.83,387.60 L240.79,387.60 L243.76,387.60 L246.73,387.60 L249.70,387.60 L252.67,387.60 L255.64,387.60 L258.61,387.60 L261.58,387.60 L264.54,387.60 L267.51,387.60 L270.48,387.60 L273.45,387.60 L276.42,387.60 L279.39,387.60 L282.36,387.60 L285.33,387.60 L288.29,387.60 L291.26,387.60 L294.23,387.60 L297.20,387.60 L300.17,387.60 L303.14,387.60 L306.11,387.60 L309.08,387.60 L312.04,387.60 L315.01,387.60 L317.98,387.60 L320.95,387.60 L323.92,387.60 L326.89,387.60 L329.86,387.60 L332.83,387.60 L335.79,387.60 L338.76,387.60 L341.73,387.60 L344.70,387.60 L347.67,387.60 L350.64,387.60 L353.61,387.60 L356.58,387.60 L359.54,387.60 L362.51,387.60 L365.48,387.60 L368.45,387.60 L371.42,387.60 L374.39,387.60 L377.36,387.60 L380.33,387.60 L383.29,387.60 L386.26,387.60 L389.23,387.60 L392.20,387.60 L395.17,387.60 L398.14,387.60 L401.11,387.60 L404.08,387.60 L407.04,387.60 L410.01,387.60 L412.98,387.60 L415.95,387.60 L418.92,387.60 L421.89,387.60 L424.86,387.60 L427.83,387.60 L430.79,387.60 L433.76,387.60 L436.73,387.60 L439.70,387.60 L442.67,387.60 L445.64,387.60 L448.61,387.60 L451.58,387.60 L454.54,387.60 L457.51,387.60 L460.48,387.60 L463.45,387.60 L466.42,387.60 L469.39,387.60 L472.36,387.60 L475.33,387.60 L478.29,387.60 L481.26,387.60 L484.23,387.60 L487.20,387.60 L490.17,387.60 L493.14,387.60 L496.11,387.60 L499.08,387.60 L502.04,387.60 L505.01,387.60 L507.98,387.60 L510.95,387.60 L513.92,387.60 L516.89,387.60 L519.86,387.60 L522.83,387.60 L525.79,387.60 L528.76,387.60 L531.73,387.60 L534.70,387.60 L537.67,387.60 L540.64,387.60 L543.61,387.60 L546.58,387.60 L549.54,387.60 L552.51,387.60 L555.48,387.60 L558.45,387.60 L561.42,387.60 L564.39,387.60 L567.36,387.60 L570.33,387.60 L573.29,387.60 L576.26,387.60 L579.23,387.60 L582.20,387.60 L585.17,387.60 L588.14,387.60 L591.11,387.60 L594.08,387.60 L597.04,387.60 L600.01,387.60 L602.98,387.60 L605.95,387.60 L608.92,387.60 L611.89,387.60 L614.86,387.60 L617.82,387.60 L620.79,387.60 L623.76,387.60 L626.73,387.60 L629.70,387.60 L632.67,387.60 L635.64,387.60 L638.61,387.60 L641.58,387.60 L644.54,387.60 L647.51,387.60 L650.48,387.60 L653.45,387.60 L656.42,387.60 L659.39,387.60 L662.36,387.60 L665.33,387.60 L668.29,387.60 L671.26,387.60 L674.23,387.60 L677.20,387.60 L680.17,387.60 L683.14,387.60 L686.11,387.60 L689.08,387.60 L692.04,387.60 L695.01,387.60 L697.98,387.60 L700.95,387.60 L703.92,387.60 L706.89,387.60 L709.86,387.60 L712.83,387.60 L715.79,387.60 L718.76,387.60 L721.73,387.60 L724.70,387.60 L727.67,387.60 L730.64,387.60 L733.61,387.60 L736.58,387.60 L739.54,387.60 L742.51,387.60 L745.48,387.60 L748.45,387.60 L751.42,387.60 L754.39,387.60 L757.36,387.60 L760.33,387.60 L763.29,387.60 L766.26,387.60 L769.23,387.60 L772.20,387.60 L775.17,387.60 L778.14,387.60 L781.11,387.60 L784.08,387.60 L787.04,387.60 L790.01,387.60 L792.98,387.60 L795.95,387.60 L798.92,387.60 L801.89,387.60 L804.86,387.60 L807.83,387.60 L810.79,387.60 L813.76,387.60 L816.73,387.60 L819.70,387.60 L822.67,387.60 L825.64,387.60 L828.61,387.60 L831.58,387.60 L834.54,387.60 L837.51,387.60 L840.48,387.60 L843.45,387.60 L846.42,387.60 L849.39,387.60 L852.36,387.60 L855.33,387.60 L858.29,387.60 L861.26,387.60 L864.23,387.60 L867.20,387.60 L870.17,387.60 L873.14,387.60 L876.11,387.60 L879.08,387.60 L882.04,387.60 L885.01,387.60 L887.98,387.60 L890.95,387.60 L893.92,387.60 L896.89,387.60 L899.86,387.60 L902.83,387.60 L905.79,387.60 L908.76,387.60 L911.73,387.60 L914.70,387.60 L917.67,387.60 L920.64,387.60 L923.61,387.60 L926.58,387.60 L929.54,387.60 L932.51,387.60 L935.48,387.60 L938.45,387.60 L941.42,387.60 L944.39,387.60 L947.36,387.60 L950.33,387.60 L953.29,387.60 L956.26,387.60 L959.23,387.60 L962.20,387.60 L965.17,387.60 L968.14,387.60 L971.11,387.60 L974.08,387.60 L977.04,387.60 L980.01,387.60 L982.98,387.60 L985.95,387.60 L988.92,387.60 L991.89,387.60 L994.86,387.60 L997.83,387.60 L1000.79,387.60 L1003.76,387.60 L1006.73,387.60 L1009.70,387.60 L1012.67,387.60 L1015.64,387.60 L1018.61,387.60 L1021.58,387.60" fill="none" stroke="#0000ff" stroke-width="2" stroke-linejoin="round" stroke-linecap="square"/>
<path d="M130.95,194.70 L133.92,194.70 L136.89,194.70 L139.86,194.70 L142.83,194.70 L145.79,194.70 L148.76,194.70 L151.73,194.70 L154.70,194.70 L157.67,194.70 L160.64,194.70 L163.61,194.70 L166.58,194.70 L169.54,194.70 L172.51,194.70 L175.48,194.70 L178.45,194.70 L181.42,194.70 L184.39,194.70 L187.36,194.70 L190.33,194.70 L193.29,194.70 L196.26,194.70 L199.23,194.70 L202.20,194.70 L205.17,194.70 L208.14,194.70 L211.11,194.70 L214.08,194.70 L217.04,194.70 L220.01,194.70 L222.98,194.70 L225.95,194.70 L228.92,194.70 L231.89,194.70 L234.86,194.70 L237.83,194.70 L240.79,194.70 L243.76,194.70 L246.73,194.70 L249.70,194.70 L252.67,194.70 L255.64,194.70 L258.61,194.70 L261.58,194.70 L264.54,194.70 L267.51,194.70 L270.48,194.70 L273.45,194.70 L276.42,194.70 L279.39,194.70 L282.36,194.70 L285.33,194.70 L288.29,194.70 L291.26,194.70 L294.23,194.70 L297.20,194.70 L300.17,194.70 L303.14,194.70 L306.11,194.70 L309.08,194.70 L312.04,194.70 L315.01,194.70 L317.98,194.70 L320.95,194.70 L323.92,194.70 L326.89,194.70 L329.86,194.70 L332.83,194.70 L335.79,194.70 L338.76,194.70 L341.73,194.70 L344.70,194.70 L347.67,194.70 L350.64,194.70 L353.61,194.70 L356.58,194.70 L359.54,194.70 L362.51,194.70 L365.48,194.70 L368.45,194.70 L371.42,194.70 L374.39,194.70 L377.36,194.70 L380.33,194.70 L383.29,194.70 L386.26,194.70 L389.23,194.70 L392.20,194.70 L395.17,194.70 L398.14,194.70 L401.11,194.70 L404.08,194.70 L407.04,194.70 L410.01,194.70 L412.98,194.70 L415.95,194.70 L418.92,194.70 L421.89,194.70 L424.86,194.70 L427.83,194.70 L430.79,194.70 L433.76,194.70 L436.73,194.70 L439.70,194.70 L442.67,194.70 L445.64,194.70 L448.61,194.70 L451.58,194.70 L454.54,194.70 L457.51,194.70 L460.48,194.70 L463.45,194.70 L466.42,194.70 L469.39,194.70 L472.36,194.70 L475.33,194.70 L478.29,194.70 L481.26,194.70 L484.23,194.70 L487.20,194.70 L490.17,194.70 L493.14,194.70 L496.11,194.70 L499.08,194.70 L502.04,194.70 L505.01,194.70 L507.98,194.70 L510.95,194.70 L513.92,194.70 L516.89,194.70 L519.86,194.70 L522.83,194.70 L525.79,194.70 L528.76,194.70 L531.73,194.70 L534.70,194.70 L537.67,194.70 L540.64,194.70 L543.61,194.70 L546.58,194.70 L549.54,194.70 L552.51,194.70 L555.48,194.70 L558.45,194.70 L561.42,194.70 L564.39,194.70 L567.36,194.70 L570.33,194.70 L573.29,194.70 L576.26,194.70 L579.23,194.70 L582.20,194.70 L585.17,194.70 L588.14,194.70 L591.11,194.70 L594.08,194.70 L597.04,194.70 L600.01,194.70 L602.98,194.70 L605.95,194.70 L608.92,194.70 L611.89,194.70 L614.86,194.70 L617.82,194.70 L620.79,194.70 L623.76,194.70 L626.73,194.70 L629.70,194.70 L632.67,194.70 L635.64,194.70 L638.61,194.70 L641.58,194.70 L644.54,194.70 L647.51,194.70 L650.48,194.70 L653.45,194.70 L656.42,194.70 L659.39,194.70 L662.36,194.70 L665.33,194.70 L668.29,194.70 L671.26,194.70 L674.23,194.70 L677.20,194.70 L680.17,194.70 L683.14,194.70 L686.11,194.70 L689.08,194.70 L692.04,194.70 L695.01,194.70 L697.98,194.70 L700.95,194.70 L703.92,194.70 L706.89,194.70 L709.86,194.70 L712.83,194.70 L715.79,194.70 L718.76,194.70 L721.73,194.70 L724.70,194.70 L727.67,194.70 L730.64,194.70 L733.61,194.70 L736.58,194.70 L739.54,194.70 L742.51,194.70 L745.48,194.70 L748.45,194.70 L751.42,194.70 L754.39,194.70 L757.36,194.70 L760.33,194.70 L763.29,194.70 L766.26,194.70 L769.23,194.70 L772.20,194.70 L775.17,194.70 L778.14,194.70 L781.11,194.70 L784.08,194.70 L787.04,194.70 L790.01,194.70 L792.98,194.70 L795.95,194.70 L798.92,194.70 L801.89,194.70 L804.86,194.70 L807.83,194.70 L810.79,194.70 L813.76,194.70 L816.73,194.70 L819.70,194.70 L822.67,194.70 L825.64,194.70 L828.61,194.70 L831.58,194.70 L834.54,194.70 L837.51,194.70 L840.48,194.70 L843.45,194.70 L846.42,194.70 L849.39,194.70 L852.36,194.70 L855.33,194.70 L858.29,194.70 L861.26,194.70 L864.23,194.70 L867.20,194.70 L870.17,194.70 L873.14,194.70 L876.11,194.70 L879.08,194.70 L882.04,194.70 L885.01,194.70 L887.98,194.70 L890.95,194.70 L893.92,194.70 L896.89,194.70 L899.86,194.70 L902.83,194.70 L905.79,194.70 L908.76,194.70 L911.73,194.70 L914.70,194.70 L917.67,194.70 L920.64,194.70 L923.61,194.70 L926.58,194.70 L929.54,194.70 L932.51,194.70 L935.48,194.70 L938.45,194.70 L941.42,194.70 L944.39,194.70 L947.36,194.70 L950.33,194.70 L953.29,194.70 L956.26,194.70 L959.23,194.70 L962.20,194.70 L965.17,194.70 L968.14,194.70 L971.11,194.70 L974.08,194.70 L977.04,194.70 L980.01,194.70 L982.98,194.70 L985.95,194.70 L988.92,194.70 L991.89,194.70 L994.86,194.70 L997.83,194.70 L1000.79,194.70 L1003.76,194.70 L1006.73,194.70 L1009.70,194.70 L1012.67,194.70 L1015.64,194.70 L1018.61,194.70 L1021.58,194.70" fill="none" stroke="#ff0000" stroke-width="4" stroke-linejoin="round" stroke-linecap="square"/>
<g font-family="'Liberation Sans', sans-serif" font-size="44" fill="#000"><text y="30.76"><tspan x="78.81">1</tspan><tspan x="100.78">0</tspan></text><text y="168.14"><tspan x="100.78">5</tspan></text><text y="305.53"><tspan x="100.78">0</tspan></text><text y="443.31"><tspan x="77.14" dy="2.8" font-size="41.5">−</tspan><tspan x="100.78" dy="-2.8">5</tspan></text><text y="581.10"><tspan x="52.67" dy="2.8" font-size="41.5">−</tspan><tspan x="78.81" dy="-2.8">1</tspan><tspan x="100.78">0</tspan></text><text x="118.41" y="610.5">0</text><text x="238.96" y="610.5">1</text><text x="355.91" y="610.5">2</text><text x="474.66" y="610.5">3</text><text x="593.41" y="610.5">4</text><text x="712.16" y="610.5">5</text><text x="830.91" y="610.5">6</text><text x="949.66" y="610.5">7</text></g>
<g fill="#fff"><rect x="80.96" y="26.47" width="8.91" height="5.29"/><rect x="93.76" y="26.47" width="8.57" height="5.29"/><rect x="80.96" y="576.81" width="8.91" height="5.29"/><rect x="93.76" y="576.81" width="8.57" height="5.29"/><rect x="241.12" y="606.21" width="8.91" height="5.29"/><rect x="253.92" y="606.21" width="8.57" height="5.29"/></g>
<rect x="171.00" y="45.10" width="157.10" height="51.50" fill="none" stroke="#000" stroke-width="2"/>
<text transform="translate(179.35,82.80) scale(0.9546,1)" font-family="'Liberation Sans', sans-serif" font-size="32.4" fill="#000">Initial time</text>
<rect x="938.20" y="168.70" width="47.90" height="51.60" rx="17.5" ry="17.5" fill="none" stroke="#ff0000" stroke-width="2"/>
<rect x="945.90" y="183.90" width="31.60" height="27.3" fill="#fff"/>
<text transform="translate(947.96,206.20) scale(1.1055,1)" font-family="'Liberation Sans', sans-serif" font-size="31" font-style="italic" fill="#ff0000" stroke="#ff0000" stroke-width="0.2">λ</text>
<text transform="translate(964.60,210.90) scale(0.95,1.035)" font-family="'Liberation Sans', sans-serif" font-size="22.5" fill="#ff0000">1</text>
<g fill="#fff"><rect x="965.23" y="208.36" width="4.75" height="3.34"/><rect x="971.86" y="208.36" width="4.58" height="3.34"/></g>
<rect x="594.40" y="100.30" width="47.00" height="51.10" rx="17.5" ry="17.5" fill="none" stroke="#0000ff" stroke-width="2"/>
<rect x="602.10" y="115.50" width="30.70" height="27.3" fill="#fff"/>
<text transform="translate(604.16,137.80) scale(1.1055,1)" font-family="'Liberation Sans', sans-serif" font-size="31" font-style="italic" fill="#0000ff" stroke="#0000ff" stroke-width="0.2">λ</text>
<text transform="translate(619.30,142.50) scale(0.95,1.035)" font-family="'Liberation Sans', sans-serif" font-size="22.5" fill="#0000ff">2</text>
<rect x="522.90" y="306.20" width="47.40" height="51.60" rx="17.5" ry="17.5" fill="none" stroke="#0000ff" stroke-width="2"/>
<rect x="530.60" y="321.40" width="31.10" height="27.3" fill="#fff"/>
<text transform="translate(532.66,343.70) scale(1.1055,1)" font-family="'Liberation Sans', sans-serif" font-size="31" font-style="italic" fill="#0000ff" stroke="#0000ff" stroke-width="0.2">λ</text>
<text transform="translate(547.80,348.40) scale(0.95,1.035)" font-family="'Liberation Sans', sans-serif" font-size="22.5" fill="#0000ff">3</text>
<rect x="712.90" y="127.70" width="47.40" height="51.30" rx="17.5" ry="17.5" fill="none" stroke="#0000ff" stroke-width="2"/>
<rect x="720.60" y="142.90" width="31.10" height="27.3" fill="#fff"/>
<text transform="translate(722.66,165.20) scale(1.1055,1)" font-family="'Liberation Sans', sans-serif" font-size="31" font-style="italic" fill="#0000ff" stroke="#0000ff" stroke-width="0.2">λ</text>
<text transform="translate(737.80,169.90) scale(0.95,1.035)" font-family="'Liberation Sans', sans-serif" font-size="22.5" fill="#0000ff">4</text>
<rect x="712.90" y="402.70" width="47.40" height="51.30" rx="17.5" ry="17.5" fill="none" stroke="#0000ff" stroke-width="2"/>
<rect x="720.60" y="417.90" width="31.10" height="27.3" fill="#fff"/>
<text transform="translate(722.66,440.20) scale(1.1055,1)" font-family="'Liberation Sans', sans-serif" font-size="31" font-style="italic" fill="#0000ff" stroke="#0000ff" stroke-width="0.2">λ</text>
<text transform="translate(737.80,444.90) scale(0.95,1.035)" font-family="'Liberation Sans', sans-serif" font-size="22.5" fill="#0000ff">5</text>
<rect x="522.90" y="224.00" width="47.40" height="51.00" rx="17.5" ry="17.5" fill="none" stroke="#0000ff" stroke-width="2"/>
<rect x="530.60" y="239.20" width="31.10" height="27.3" fill="#fff"/>
<text transform="translate(532.66,261.50) scale(1.1055,1)" font-family="'Liberation Sans', sans-serif" font-size="31" font-style="italic" fill="#0000ff" stroke="#0000ff" stroke-width="0.2">λ</text>
<text transform="translate(547.80,266.20) scale(0.95,1.035)" font-family="'Liberation Sans', sans-serif" font-size="22.5" fill="#0000ff">6</text>
<rect x="594.40" y="430.50" width="47.00" height="50.90" rx="17.5" ry="17.5" fill="none" stroke="#0000ff" stroke-width="2"/>
<rect x="602.10" y="445.70" width="30.70" height="27.3" fill="#fff"/>
<text transform="translate(604.16,468.00) scale(1.1055,1)" font-family="'Liberation Sans', sans-serif" font-size="31" font-style="italic" fill="#0000ff" stroke="#0000ff" stroke-width="0.2">λ</text>
<text transform="translate(619.30,472.70) scale(0.95,1.035)" font-family="'Liberation Sans', sans-serif" font-size="22.5" fill="#0000ff">7</text>
<rect x="938.20" y="361.70" width="47.90" height="51.00" rx="17.5" ry="17.5" fill="none" stroke="#0000ff" stroke-width="2"/>
<rect x="945.90" y="376.90" width="31.60" height="27.3" fill="#fff"/>
<text transform="translate(947.96,399.20) scale(1.1055,1)" font-family="'Liberation Sans', sans-serif" font-size="31" font-style="italic" fill="#0000ff" stroke="#0000ff" stroke-width="0.2">λ</text>
<text transform="translate(963.10,403.90) scale(0.95,1.035)" font-family="'Liberation Sans', sans-serif" font-size="22.5" fill="#0000ff">8</text>
<text transform="translate(297.48,669.80) scale(0.9920,1.015)" font-family="'Liberation Sans', sans-serif" font-size="42.6" fill="#000">Scaled Coupling Strength</text>
<text transform="translate(791.06,669.80) scale(0.9282,1.015)" font-family="'Liberation Sans', sans-serif" font-size="42.6" font-style="italic" fill="#000">γ</text>
<text transform="translate(813.00,669.80) scale(1.0179,1.015)" font-family="'Liberation Sans', sans-serif" font-size="42.6" fill="#000">/Δ</text>
<text transform="translate(31.30,539.74) rotate(-90) scale(0.9848,1.01)" font-family="'Liberation Sans', sans-serif" font-size="43.2" fill="#000">Eigenvalues</text>
<text transform="translate(31.30,295.70) rotate(-90) scale(1.0705,1.01)" font-family="'Liberation Sans', sans-serif" font-size="43.2" font-style="italic" fill="#000">λ</text>
<text transform="translate(38.10,273.69) rotate(-90) scale(1.0065,1)" font-family="'Liberation Sans', sans-serif" font-size="29.5" font-style="italic" fill="#000" stroke="#000" stroke-width="0.5">k</text>
<text transform="translate(31.30,246.26) rotate(-90) scale(0.9935,1.01)" font-family="'Liberation Sans', sans-serif" font-size="43.2" fill="#000">(in units Δ)</text>
<g stroke="#d0d0d0" stroke-width="1"><line x1="1377.49" y1="14.96" x2="1377.49" y2="566.10"/><line x1="1209.55" y1="251.88" x2="2100.18" y2="251.88"/><line x1="1620.91" y1="14.96" x2="1620.91" y2="566.10"/><line x1="1209.55" y1="195.39" x2="2100.18" y2="195.39"/><line x1="1859.97" y1="14.96" x2="1859.97" y2="566.10"/><line x1="1209.55" y1="139.91" x2="2100.18" y2="139.91"/><line x1="2098.19" y1="14.96" x2="2098.19" y2="566.10"/><line x1="1209.55" y1="84.63" x2="2100.18" y2="84.63"/></g>
<line x1="1209.55" y1="290.75" x2="2100.18" y2="290.75" stroke="#222" stroke-width="1.3"/>
<g stroke="#737373" stroke-width="1"><line x1="1209.55" y1="14.96" x2="1209.55" y2="566.10"/><line x1="1209.05" y1="566.35" x2="2100.68" y2="566.35"/><line x1="2100.18" y1="14.96" x2="2100.18" y2="566.10"/><line x1="1209.55" y1="538.54" x2="1214.05" y2="538.54"/><line x1="2100.18" y1="538.54" x2="2095.68" y2="538.54"/><line x1="1209.55" y1="510.99" x2="1214.05" y2="510.99"/><line x1="2100.18" y1="510.99" x2="2095.68" y2="510.99"/><line x1="1209.55" y1="483.43" x2="1214.05" y2="483.43"/><line x1="2100.18" y1="483.43" x2="2095.68" y2="483.43"/><line x1="1209.55" y1="455.87" x2="1214.05" y2="455.87"/><line x1="2100.18" y1="455.87" x2="2095.68" y2="455.87"/><line x1="1209.55" y1="428.31" x2="1217.05" y2="428.31"/><line x1="2100.18" y1="428.31" x2="2091.68" y2="428.31"/><line x1="1209.55" y1="400.76" x2="1214.05" y2="400.76"/><line x1="2100.18" y1="400.76" x2="2095.68" y2="400.76"/><line x1="1209.55" y1="373.20" x2="1214.05" y2="373.20"/><line x1="2100.18" y1="373.20" x2="2095.68" y2="373.20"/><line x1="1209.55" y1="345.64" x2="1214.05" y2="345.64"/><line x1="2100.18" y1="345.64" x2="2095.68" y2="345.64"/><line x1="1209.55" y1="318.09" x2="1214.05" y2="318.09"/><line x1="2100.18" y1="318.09" x2="2095.68" y2="318.09"/><line x1="1209.55" y1="290.53" x2="1217.05" y2="290.53"/><line x1="2100.18" y1="290.53" x2="2091.68" y2="290.53"/><line x1="1209.55" y1="262.97" x2="1214.05" y2="262.97"/><line x1="2100.18" y1="262.97" x2="2095.68" y2="262.97"/><line x1="1209.55" y1="235.42" x2="1214.05" y2="235.42"/><line x1="2100.18" y1="235.42" x2="2095.68" y2="235.42"/><line x1="1209.55" y1="207.86" x2="1214.05" y2="207.86"/><line x1="2100.18" y1="207.86" x2="2095.68" y2="207.86"/><line x1="1209.55" y1="180.30" x2="1214.05" y2="180.30"/><line x1="2100.18" y1="180.30" x2="2095.68" y2="180.30"/><line x1="1209.55" y1="152.74" x2="1217.05" y2="152.74"/><line x1="2100.18" y1="152.74" x2="2091.68" y2="152.74"/><line x1="1209.55" y1="125.19" x2="1214.05" y2="125.19"/><line x1="2100.18" y1="125.19" x2="2095.68" y2="125.19"/><line x1="1209.55" y1="97.63" x2="1214.05" y2="97.63"/><line x1="2100.18" y1="97.63" x2="2095.68" y2="97.63"/><line x1="1209.55" y1="70.07" x2="1214.05" y2="70.07"/><line x1="2100.18" y1="70.07" x2="2095.68" y2="70.07"/><line x1="1209.55" y1="42.52" x2="1214.05" y2="42.52"/><line x1="2100.18" y1="42.52" x2="2095.68" y2="42.52"/><line x1="1209.55" y1="566.10" x2="1209.55" y2="558.10"/><line x1="1233.30" y1="566.10" x2="1233.30" y2="561.10"/><line x1="1257.05" y1="566.10" x2="1257.05" y2="561.10"/><line x1="1280.80" y1="566.10" x2="1280.80" y2="561.10"/><line x1="1304.55" y1="566.10" x2="1304.55" y2="561.10"/><line x1="1328.30" y1="566.10" x2="1328.30" y2="558.10"/><line x1="1352.05" y1="566.10" x2="1352.05" y2="561.10"/><line x1="1375.80" y1="566.10" x2="1375.80" y2="561.10"/><line x1="1399.55" y1="566.10" x2="1399.55" y2="561.10"/><line x1="1423.30" y1="566.10" x2="1423.30" y2="561.10"/><line x1="1447.05" y1="566.10" x2="1447.05" y2="558.10"/><line x1="1470.80" y1="566.10" x2="1470.80" y2="561.10"/><line x1="1494.55" y1="566.10" x2="1494.55" y2="561.10"/><line x1="1518.30" y1="566.10" x2="1518.30" y2="561.10"/><line x1="1542.05" y1="566.10" x2="1542.05" y2="561.10"/><line x1="1565.80" y1="566.10" x2="1565.80" y2="558.10"/><line x1="1589.55" y1="566.10" x2="1589.55" y2="561.10"/><line x1="1613.30" y1="566.10" x2="1613.30" y2="561.10"/><line x1="1637.05" y1="566.10" x2="1637.05" y2="561.10"/><line x1="1660.80" y1="566.10" x2="1660.80" y2="561.10"/><line x1="1684.55" y1="566.10" x2="1684.55" y2="558.10"/><line x1="1708.30" y1="566.10" x2="1708.30" y2="561.10"/><line x1="1732.05" y1="566.10" x2="1732.05" y2="561.10"/><line x1="1755.80" y1="566.10" x2="1755.80" y2="561.10"/><line x1="1779.55" y1="566.10" x2="1779.55" y2="561.10"/><line x1="1803.30" y1="566.10" x2="1803.30" y2="558.10"/><line x1="1827.05" y1="566.10" x2="1827.05" y2="561.10"/><line x1="1850.80" y1="566.10" x2="1850.80" y2="561.10"/><line x1="1874.55" y1="566.10" x2="1874.55" y2="561.10"/><line x1="1898.30" y1="566.10" x2="1898.30" y2="561.10"/><line x1="1922.05" y1="566.10" x2="1922.05" y2="558.10"/><line x1="1945.80" y1="566.10" x2="1945.80" y2="561.10"/><line x1="1969.55" y1="566.10" x2="1969.55" y2="561.10"/><line x1="1993.30" y1="566.10" x2="1993.30" y2="561.10"/><line x1="2017.05" y1="566.10" x2="2017.05" y2="561.10"/><line x1="2040.80" y1="566.10" x2="2040.80" y2="558.10"/><line x1="2064.55" y1="566.10" x2="2064.55" y2="561.10"/><line x1="2088.30" y1="566.10" x2="2088.30" y2="561.10"/><line x1="1268.92" y1="14.96" x2="1268.92" y2="19.96"/><line x1="1328.30" y1="14.96" x2="1328.30" y2="19.96"/><line x1="1387.67" y1="14.96" x2="1387.67" y2="19.96"/><line x1="1447.05" y1="14.96" x2="1447.05" y2="23.96"/><line x1="1506.42" y1="14.96" x2="1506.42" y2="19.96"/><line x1="1565.80" y1="14.96" x2="1565.80" y2="19.96"/><line x1="1625.17" y1="14.96" x2="1625.17" y2="19.96"/><line x1="1684.55" y1="14.96" x2="1684.55" y2="23.96"/><line x1="1743.92" y1="14.96" x2="1743.92" y2="19.96"/><line x1="1803.30" y1="14.96" x2="1803.30" y2="19.96"/><line x1="1862.67" y1="14.96" x2="1862.67" y2="19.96"/><line x1="1922.05" y1="14.96" x2="1922.05" y2="23.96"/><line x1="1981.42" y1="14.96" x2="1981.42" y2="19.96"/><line x1="2040.80" y1="14.96" x2="2040.80" y2="19.96"/><line x1="2100.18" y1="14.96" x2="2100.18" y2="19.96"/></g>
<path d="M1209.55,194.40 L1212.52,194.38 L1215.49,194.33 L1218.46,194.25 L1221.42,194.13 L1224.39,193.98 L1227.36,193.79 L1230.33,193.58 L1233.30,193.34 L1236.27,193.07 L1239.24,192.77 L1242.21,192.45 L1245.17,192.11 L1248.14,191.75 L1251.11,191.36 L1254.08,190.96 L1257.05,190.53 L1260.02,190.10 L1262.99,189.64 L1265.96,189.17 L1268.92,188.69 L1271.89,188.20 L1274.86,187.70 L1277.83,187.18 L1280.80,186.66 L1283.77,186.12 L1286.74,185.58 L1289.71,185.03 L1292.67,184.47 L1295.64,183.91 L1298.61,183.34 L1301.58,182.76 L1304.55,182.18 L1307.52,181.60 L1310.49,181.00 L1313.46,180.41 L1316.42,179.81 L1319.39,179.20 L1322.36,178.60 L1325.33,177.98 L1328.30,177.37 L1331.27,176.75 L1334.24,176.13 L1337.21,175.51 L1340.17,174.88 L1343.14,174.25 L1346.11,173.62 L1349.08,172.99 L1352.05,172.35 L1355.02,171.72 L1357.99,171.08 L1360.96,170.44 L1363.92,169.80 L1366.89,169.15 L1369.86,168.51 L1372.83,167.86 L1375.80,167.21 L1378.77,166.56 L1381.74,165.91 L1384.71,165.26 L1387.67,164.61 L1390.64,163.95 L1393.61,163.30 L1396.58,162.64 L1399.55,161.99 L1402.52,161.33 L1405.49,160.67 L1408.46,160.01 L1411.42,159.35 L1414.39,158.69 L1417.36,158.02 L1420.33,157.36 L1423.30,156.70 L1426.27,156.03 L1429.24,155.37 L1432.21,154.70 L1435.17,154.04 L1438.14,153.37 L1441.11,152.70 L1444.08,152.04 L1447.05,151.37 L1450.02,150.70 L1452.99,150.03 L1455.96,149.36 L1458.92,148.69 L1461.89,148.02 L1464.86,147.35 L1467.83,146.68 L1470.80,146.01 L1473.77,145.34 L1476.74,144.66 L1479.71,143.99 L1482.67,143.32 L1485.64,142.64 L1488.61,141.97 L1491.58,141.30 L1494.55,140.62 L1497.52,139.95 L1500.49,139.27 L1503.46,138.60 L1506.42,137.92 L1509.39,137.25 L1512.36,136.57 L1515.33,135.89 L1518.30,135.22 L1521.27,134.54 L1524.24,133.86 L1527.21,133.19 L1530.17,132.51 L1533.14,131.83 L1536.11,131.15 L1539.08,130.48 L1542.05,129.80 L1545.02,129.12 L1547.99,128.44 L1550.96,127.76 L1553.92,127.08 L1556.89,126.41 L1559.86,125.73 L1562.83,125.05 L1565.80,124.37 L1568.77,123.69 L1571.74,123.01 L1574.71,122.33 L1577.67,121.65 L1580.64,120.97 L1583.61,120.29 L1586.58,119.61 L1589.55,118.93 L1592.52,118.25 L1595.49,117.57 L1598.46,116.88 L1601.42,116.20 L1604.39,115.52 L1607.36,114.84 L1610.33,114.16 L1613.30,113.48 L1616.27,112.80 L1619.24,112.11 L1622.21,111.43 L1625.17,110.75 L1628.14,110.07 L1631.11,109.39 L1634.08,108.70 L1637.05,108.02 L1640.02,107.34 L1642.99,106.66 L1645.96,105.97 L1648.92,105.29 L1651.89,104.61 L1654.86,103.93 L1657.83,103.24 L1660.80,102.56 L1663.77,101.88 L1666.74,101.19 L1669.71,100.51 L1672.67,99.83 L1675.64,99.14 L1678.61,98.46 L1681.58,97.78 L1684.55,97.09 L1687.52,96.41 L1690.49,95.73 L1693.46,95.04 L1696.42,94.36 L1699.39,93.67 L1702.36,92.99 L1705.33,92.31 L1708.30,91.62 L1711.27,90.94 L1714.24,90.25 L1717.21,89.57 L1720.17,88.89 L1723.14,88.20 L1726.11,87.52 L1729.08,86.83 L1732.05,86.15 L1735.02,85.46 L1737.99,84.78 L1740.96,84.09 L1743.92,83.41 L1746.89,82.72 L1749.86,82.04 L1752.83,81.36 L1755.80,80.67 L1758.77,79.99 L1761.74,79.30 L1764.71,78.62 L1767.67,77.93 L1770.64,77.25 L1773.61,76.56 L1776.58,75.87 L1779.55,75.19 L1782.52,74.50 L1785.49,73.82 L1788.46,73.13 L1791.42,72.45 L1794.39,71.76 L1797.36,71.08 L1800.33,70.39 L1803.30,69.71 L1806.27,69.02 L1809.24,68.34 L1812.21,67.65 L1815.17,66.96 L1818.14,66.28 L1821.11,65.59 L1824.08,64.91 L1827.05,64.22 L1830.02,63.54 L1832.99,62.85 L1835.96,62.16 L1838.92,61.48 L1841.89,60.79 L1844.86,60.11 L1847.83,59.42 L1850.80,58.73 L1853.77,58.05 L1856.74,57.36 L1859.71,56.68 L1862.67,55.99 L1865.64,55.30 L1868.61,54.62 L1871.58,53.93 L1874.55,53.25 L1877.52,52.56 L1880.49,51.87 L1883.46,51.19 L1886.42,50.50 L1889.39,49.81 L1892.36,49.13 L1895.33,48.44 L1898.30,47.76 L1901.27,47.07 L1904.24,46.38 L1907.21,45.70 L1910.17,45.01 L1913.14,44.32 L1916.11,43.64 L1919.08,42.95 L1922.05,42.26 L1925.02,41.58 L1927.99,40.89 L1930.96,40.20 L1933.92,39.52 L1936.89,38.83 L1939.86,38.14 L1942.83,37.46 L1945.80,36.77 L1948.77,36.08 L1951.74,35.40 L1954.71,34.71 L1957.67,34.02 L1960.64,33.34 L1963.61,32.65 L1966.58,31.96 L1969.55,31.28 L1972.52,30.59 L1975.49,29.90 L1978.46,29.22 L1981.42,28.53 L1984.39,27.84 L1987.36,27.16 L1990.33,26.47 L1993.30,25.78 L1996.27,25.09 L1999.24,24.41 L2002.21,23.72 L2005.17,23.03 L2008.14,22.35 L2011.11,21.66 L2014.08,20.97 L2017.05,20.29 L2020.02,19.60 L2022.99,18.91 L2025.96,18.22 L2028.92,17.54 L2031.89,16.85 L2034.86,16.16 L2037.83,15.48 L2038.68,15.28" fill="none" stroke="#0000ff" stroke-width="2" stroke-linejoin="round" stroke-linecap="square"/>
<path d="M1209.55,221.96 L1212.52,221.97 L1215.49,222.03 L1218.46,222.11 L1221.42,222.23 L1224.39,222.38 L1227.36,222.56 L1230.33,222.78 L1233.30,223.02 L1236.27,223.29 L1239.24,223.58 L1242.21,223.90 L1245.17,224.25 L1248.14,224.61 L1251.11,225.00 L1254.08,225.40 L1257.05,225.82 L1260.02,226.26 L1262.99,226.72 L1265.96,227.18 L1268.92,227.66 L1271.89,228.16 L1274.86,228.66 L1277.83,229.18 L1280.80,229.70 L1283.77,230.24 L1286.74,230.78 L1289.71,231.33 L1292.67,231.88 L1295.64,232.45 L1298.61,233.02 L1301.58,233.59 L1304.55,234.18 L1307.52,234.76 L1310.49,235.35 L1313.46,235.95 L1316.42,236.55 L1319.39,237.15 L1322.36,237.76 L1325.33,238.37 L1328.30,238.99 L1331.27,239.61 L1334.24,240.23 L1337.21,240.85 L1340.17,241.48 L1343.14,242.10 L1346.11,242.74 L1349.08,243.37 L1352.05,244.00 L1355.02,244.64 L1357.99,245.28 L1360.96,245.92 L1363.92,246.56 L1366.89,247.21 L1369.86,247.85 L1372.83,248.50 L1375.80,249.15 L1378.77,249.79 L1381.74,250.45 L1384.71,251.10 L1387.67,251.75 L1390.64,252.40 L1393.61,253.06 L1396.58,253.72 L1399.55,254.37 L1402.52,255.03 L1405.49,255.69 L1408.46,256.35 L1411.42,257.01 L1414.39,257.67 L1417.36,258.33 L1420.33,259.00 L1423.30,259.66 L1426.27,260.32 L1429.24,260.99 L1432.21,261.65 L1435.17,262.32 L1438.14,262.99 L1441.11,263.65 L1444.08,264.32 L1447.05,264.99 L1450.02,265.66 L1452.99,266.33 L1455.96,267.00 L1458.92,267.67 L1461.89,268.34 L1464.86,269.01 L1467.83,269.68 L1470.80,270.35 L1473.77,271.02 L1476.74,271.69 L1479.71,272.37 L1482.67,273.04 L1485.64,273.71 L1488.61,274.39 L1491.58,275.06 L1494.55,275.74 L1497.52,276.41 L1500.49,277.09 L1503.46,277.76 L1506.42,278.44 L1509.39,279.11 L1512.36,279.79 L1515.33,280.46 L1518.30,281.14 L1521.27,281.82 L1524.24,282.49 L1527.21,283.17 L1530.17,283.85 L1533.14,284.53 L1536.11,285.20 L1539.08,285.88 L1542.05,286.56 L1545.02,287.24 L1547.99,287.92 L1550.96,288.59 L1553.92,289.27 L1556.89,289.95 L1559.86,290.63 L1562.83,291.31 L1565.80,291.99 L1568.77,292.67 L1571.74,293.35 L1574.71,294.03 L1577.67,294.71 L1580.64,295.39 L1583.61,296.07 L1586.58,296.75 L1589.55,297.43 L1592.52,298.11 L1595.49,298.79 L1598.46,299.47 L1601.42,300.16 L1604.39,300.84 L1607.36,301.52 L1610.33,302.20 L1613.30,302.88 L1616.27,303.56 L1619.24,304.24 L1622.21,304.93 L1625.17,305.61 L1628.14,306.29 L1631.11,306.97 L1634.08,307.65 L1637.05,308.34 L1640.02,309.02 L1642.99,309.70 L1645.96,310.38 L1648.92,311.07 L1651.89,311.75 L1654.86,312.43 L1657.83,313.12 L1660.80,313.80 L1663.77,314.48 L1666.74,315.16 L1669.71,315.85 L1672.67,316.53 L1675.64,317.21 L1678.61,317.90 L1681.58,318.58 L1684.55,319.26 L1687.52,319.95 L1690.49,320.63 L1693.46,321.32 L1696.42,322.00 L1699.39,322.68 L1702.36,323.37 L1705.33,324.05 L1708.30,324.74 L1711.27,325.42 L1714.24,326.10 L1717.21,326.79 L1720.17,327.47 L1723.14,328.16 L1726.11,328.84 L1729.08,329.53 L1732.05,330.21 L1735.02,330.89 L1737.99,331.58 L1740.96,332.26 L1743.92,332.95 L1746.89,333.63 L1749.86,334.32 L1752.83,335.00 L1755.80,335.69 L1758.77,336.37 L1761.74,337.06 L1764.71,337.74 L1767.67,338.43 L1770.64,339.11 L1773.61,339.80 L1776.58,340.48 L1779.55,341.17 L1782.52,341.85 L1785.49,342.54 L1788.46,343.22 L1791.42,343.91 L1794.39,344.59 L1797.36,345.28 L1800.33,345.97 L1803.30,346.65 L1806.27,347.34 L1809.24,348.02 L1812.21,348.71 L1815.17,349.39 L1818.14,350.08 L1821.11,350.76 L1824.08,351.45 L1827.05,352.14 L1830.02,352.82 L1832.99,353.51 L1835.96,354.19 L1838.92,354.88 L1841.89,355.57 L1844.86,356.25 L1847.83,356.94 L1850.80,357.62 L1853.77,358.31 L1856.74,359.00 L1859.71,359.68 L1862.67,360.37 L1865.64,361.05 L1868.61,361.74 L1871.58,362.43 L1874.55,363.11 L1877.52,363.80 L1880.49,364.48 L1883.46,365.17 L1886.42,365.86 L1889.39,366.54 L1892.36,367.23 L1895.33,367.92 L1898.30,368.60 L1901.27,369.29 L1904.24,369.98 L1907.21,370.66 L1910.17,371.35 L1913.14,372.03 L1916.11,372.72 L1919.08,373.41 L1922.05,374.09 L1925.02,374.78 L1927.99,375.47 L1930.96,376.15 L1933.92,376.84 L1936.89,377.53 L1939.86,378.21 L1942.83,378.90 L1945.80,379.59 L1948.77,380.27 L1951.74,380.96 L1954.71,381.65 L1957.67,382.33 L1960.64,383.02 L1963.61,383.71 L1966.58,384.39 L1969.55,385.08 L1972.52,385.77 L1975.49,386.45 L1978.46,387.14 L1981.42,387.83 L1984.39,388.52 L1987.36,389.20 L1990.33,389.89 L1993.30,390.58 L1996.27,391.26 L1999.24,391.95 L2002.21,392.64 L2005.17,393.32 L2008.14,394.01 L2011.11,394.70 L2014.08,395.39 L2017.05,396.07 L2020.02,396.76 L2022.99,397.45 L2025.96,398.13 L2028.92,398.82 L2031.89,399.51 L2034.86,400.20 L2037.83,400.88 L2040.80,401.57 L2043.77,402.26 L2046.74,402.94 L2049.71,403.63 L2052.68,404.32 L2055.64,405.01 L2058.61,405.69 L2061.58,406.38 L2064.55,407.07 L2067.52,407.75 L2070.49,408.44 L2073.46,409.13 L2076.43,409.82 L2079.39,410.50 L2082.36,411.19 L2085.33,411.88 L2088.30,412.57 L2091.27,413.25 L2094.24,413.94 L2097.21,414.63 L2100.18,415.32" fill="none" stroke="#0000ff" stroke-width="2" stroke-linejoin="round" stroke-linecap="square"/>
<path d="M1209.55,249.51 L1212.52,249.50 L1215.49,249.45 L1218.46,249.36 L1221.42,249.24 L1224.39,249.09 L1227.36,248.91 L1230.33,248.69 L1233.30,248.45 L1236.27,248.18 L1239.24,247.89 L1242.21,247.57 L1245.17,247.22 L1248.14,246.86 L1251.11,246.47 L1254.08,246.07 L1257.05,245.65 L1260.02,245.21 L1262.99,244.76 L1265.96,244.29 L1268.92,243.81 L1271.89,243.31 L1274.86,242.81 L1277.83,242.29 L1280.80,241.77 L1283.77,241.24 L1286.74,240.69 L1289.71,240.14 L1292.67,239.59 L1295.64,239.02 L1298.61,238.45 L1301.58,237.88 L1304.55,237.30 L1307.52,236.71 L1310.49,236.12 L1313.46,235.52 L1316.42,234.92 L1319.39,234.32 L1322.36,233.71 L1325.33,233.10 L1328.30,232.48 L1331.27,231.87 L1334.24,231.25 L1337.21,230.62 L1340.17,230.00 L1343.14,229.37 L1346.11,228.74 L1349.08,228.10 L1352.05,227.47 L1355.02,226.83 L1357.99,226.19 L1360.96,225.55 L1363.92,224.91 L1366.89,224.27 L1369.86,223.62 L1372.83,222.97 L1375.80,222.33 L1378.77,221.68 L1381.74,221.03 L1384.71,220.37 L1387.67,219.72 L1390.64,219.07 L1393.61,218.41 L1396.58,217.76 L1399.55,217.10 L1402.52,216.44 L1405.49,215.78 L1408.46,215.12 L1411.42,214.46 L1414.39,213.80 L1417.36,213.14 L1420.33,212.48 L1423.30,211.81 L1426.27,211.15 L1429.24,210.48 L1432.21,209.82 L1435.17,209.15 L1438.14,208.49 L1441.11,207.82 L1444.08,207.15 L1447.05,206.48 L1450.02,205.81 L1452.99,205.15 L1455.96,204.48 L1458.92,203.81 L1461.89,203.14 L1464.86,202.46 L1467.83,201.79 L1470.80,201.12 L1473.77,200.45 L1476.74,199.78 L1479.71,199.10 L1482.67,198.43 L1485.64,197.76 L1488.61,197.08 L1491.58,196.41 L1494.55,195.74 L1497.52,195.06 L1500.49,194.39 L1503.46,193.71 L1506.42,193.04 L1509.39,192.36 L1512.36,191.68 L1515.33,191.01 L1518.30,190.33 L1521.27,189.66 L1524.24,188.98 L1527.21,188.30 L1530.17,187.62 L1533.14,186.95 L1536.11,186.27 L1539.08,185.59 L1542.05,184.91 L1545.02,184.23 L1547.99,183.56 L1550.96,182.88 L1553.92,182.20 L1556.89,181.52 L1559.86,180.84 L1562.83,180.16 L1565.80,179.48 L1568.77,178.80 L1571.74,178.12 L1574.71,177.44 L1577.67,176.76 L1580.64,176.08 L1583.61,175.40 L1586.58,174.72 L1589.55,174.04 L1592.52,173.36 L1595.49,172.68 L1598.46,172.00 L1601.42,171.32 L1604.39,170.64 L1607.36,169.95 L1610.33,169.27 L1613.30,168.59 L1616.27,167.91 L1619.24,167.23 L1622.21,166.55 L1625.17,165.86 L1628.14,165.18 L1631.11,164.50 L1634.08,163.82 L1637.05,163.14 L1640.02,162.45 L1642.99,161.77 L1645.96,161.09 L1648.92,160.41 L1651.89,159.72 L1654.86,159.04 L1657.83,158.36 L1660.80,157.67 L1663.77,156.99 L1666.74,156.31 L1669.71,155.62 L1672.67,154.94 L1675.64,154.26 L1678.61,153.57 L1681.58,152.89 L1684.55,152.21 L1687.52,151.52 L1690.49,150.84 L1693.46,150.16 L1696.42,149.47 L1699.39,148.79 L1702.36,148.10 L1705.33,147.42 L1708.30,146.74 L1711.27,146.05 L1714.24,145.37 L1717.21,144.68 L1720.17,144.00 L1723.14,143.32 L1726.11,142.63 L1729.08,141.95 L1732.05,141.26 L1735.02,140.58 L1737.99,139.89 L1740.96,139.21 L1743.92,138.52 L1746.89,137.84 L1749.86,137.15 L1752.83,136.47 L1755.80,135.78 L1758.77,135.10 L1761.74,134.41 L1764.71,133.73 L1767.67,133.04 L1770.64,132.36 L1773.61,131.67 L1776.58,130.99 L1779.55,130.30 L1782.52,129.62 L1785.49,128.93 L1788.46,128.25 L1791.42,127.56 L1794.39,126.88 L1797.36,126.19 L1800.33,125.51 L1803.30,124.82 L1806.27,124.14 L1809.24,123.45 L1812.21,122.76 L1815.17,122.08 L1818.14,121.39 L1821.11,120.71 L1824.08,120.02 L1827.05,119.34 L1830.02,118.65 L1832.99,117.96 L1835.96,117.28 L1838.92,116.59 L1841.89,115.91 L1844.86,115.22 L1847.83,114.53 L1850.80,113.85 L1853.77,113.16 L1856.74,112.48 L1859.71,111.79 L1862.67,111.10 L1865.64,110.42 L1868.61,109.73 L1871.58,109.05 L1874.55,108.36 L1877.52,107.67 L1880.49,106.99 L1883.46,106.30 L1886.42,105.61 L1889.39,104.93 L1892.36,104.24 L1895.33,103.56 L1898.30,102.87 L1901.27,102.18 L1904.24,101.50 L1907.21,100.81 L1910.17,100.12 L1913.14,99.44 L1916.11,98.75 L1919.08,98.06 L1922.05,97.38 L1925.02,96.69 L1927.99,96.00 L1930.96,95.32 L1933.92,94.63 L1936.89,93.94 L1939.86,93.26 L1942.83,92.57 L1945.80,91.88 L1948.77,91.20 L1951.74,90.51 L1954.71,89.82 L1957.67,89.14 L1960.64,88.45 L1963.61,87.76 L1966.58,87.08 L1969.55,86.39 L1972.52,85.70 L1975.49,85.02 L1978.46,84.33 L1981.42,83.64 L1984.39,82.96 L1987.36,82.27 L1990.33,81.58 L1993.30,80.90 L1996.27,80.21 L1999.24,79.52 L2002.21,78.83 L2005.17,78.15 L2008.14,77.46 L2011.11,76.77 L2014.08,76.09 L2017.05,75.40 L2020.02,74.71 L2022.99,74.03 L2025.96,73.34 L2028.92,72.65 L2031.89,71.96 L2034.86,71.28 L2037.83,70.59 L2040.80,69.90 L2043.77,69.22 L2046.74,68.53 L2049.71,67.84 L2052.68,67.15 L2055.64,66.47 L2058.61,65.78 L2061.58,65.09 L2064.55,64.40 L2067.52,63.72 L2070.49,63.03 L2073.46,62.34 L2076.43,61.66 L2079.39,60.97 L2082.36,60.28 L2085.33,59.59 L2088.30,58.91 L2091.27,58.22 L2094.24,57.53 L2097.21,56.84 L2100.18,56.16" fill="none" stroke="#0000ff" stroke-width="2" stroke-linejoin="round" stroke-linecap="square"/>
<path d="M1209.55,277.07 L1212.52,277.09 L1215.49,277.14 L1218.46,277.23 L1221.42,277.34 L1224.39,277.50 L1227.36,277.68 L1230.33,277.89 L1233.30,278.13 L1236.27,278.40 L1239.24,278.70 L1242.21,279.02 L1245.17,279.36 L1248.14,279.73 L1251.11,280.11 L1254.08,280.52 L1257.05,280.94 L1260.02,281.38 L1262.99,281.83 L1265.96,282.30 L1268.92,282.78 L1271.89,283.27 L1274.86,283.78 L1277.83,284.29 L1280.80,284.82 L1283.77,285.35 L1286.74,285.89 L1289.71,286.44 L1292.67,287.00 L1295.64,287.56 L1298.61,288.13 L1301.58,288.71 L1304.55,289.29 L1307.52,289.88 L1310.49,290.47 L1313.46,291.06 L1316.42,291.66 L1319.39,292.27 L1322.36,292.88 L1325.33,293.49 L1328.30,294.10 L1331.27,294.72 L1334.24,295.34 L1337.21,295.96 L1340.17,296.59 L1343.14,297.22 L1346.11,297.85 L1349.08,298.48 L1352.05,299.12 L1355.02,299.75 L1357.99,300.39 L1360.96,301.03 L1363.92,301.68 L1366.89,302.32 L1369.86,302.96 L1372.83,303.61 L1375.80,304.26 L1378.77,304.91 L1381.74,305.56 L1384.71,306.21 L1387.67,306.86 L1390.64,307.52 L1393.61,308.17 L1396.58,308.83 L1399.55,309.49 L1402.52,310.14 L1405.49,310.80 L1408.46,311.46 L1411.42,312.12 L1414.39,312.79 L1417.36,313.45 L1420.33,314.11 L1423.30,314.77 L1426.27,315.44 L1429.24,316.10 L1432.21,316.77 L1435.17,317.43 L1438.14,318.10 L1441.11,318.77 L1444.08,319.44 L1447.05,320.10 L1450.02,320.77 L1452.99,321.44 L1455.96,322.11 L1458.92,322.78 L1461.89,323.45 L1464.86,324.12 L1467.83,324.79 L1470.80,325.46 L1473.77,326.14 L1476.74,326.81 L1479.71,327.48 L1482.67,328.15 L1485.64,328.83 L1488.61,329.50 L1491.58,330.18 L1494.55,330.85 L1497.52,331.52 L1500.49,332.20 L1503.46,332.87 L1506.42,333.55 L1509.39,334.23 L1512.36,334.90 L1515.33,335.58 L1518.30,336.25 L1521.27,336.93 L1524.24,337.61 L1527.21,338.28 L1530.17,338.96 L1533.14,339.64 L1536.11,340.32 L1539.08,341.00 L1542.05,341.67 L1545.02,342.35 L1547.99,343.03 L1550.96,343.71 L1553.92,344.39 L1556.89,345.07 L1559.86,345.75 L1562.83,346.42 L1565.80,347.10 L1568.77,347.78 L1571.74,348.46 L1574.71,349.14 L1577.67,349.82 L1580.64,350.50 L1583.61,351.18 L1586.58,351.86 L1589.55,352.55 L1592.52,353.23 L1595.49,353.91 L1598.46,354.59 L1601.42,355.27 L1604.39,355.95 L1607.36,356.63 L1610.33,357.31 L1613.30,357.99 L1616.27,358.68 L1619.24,359.36 L1622.21,360.04 L1625.17,360.72 L1628.14,361.40 L1631.11,362.09 L1634.08,362.77 L1637.05,363.45 L1640.02,364.13 L1642.99,364.82 L1645.96,365.50 L1648.92,366.18 L1651.89,366.86 L1654.86,367.55 L1657.83,368.23 L1660.80,368.91 L1663.77,369.60 L1666.74,370.28 L1669.71,370.96 L1672.67,371.64 L1675.64,372.33 L1678.61,373.01 L1681.58,373.70 L1684.55,374.38 L1687.52,375.06 L1690.49,375.75 L1693.46,376.43 L1696.42,377.11 L1699.39,377.80 L1702.36,378.48 L1705.33,379.17 L1708.30,379.85 L1711.27,380.53 L1714.24,381.22 L1717.21,381.90 L1720.17,382.59 L1723.14,383.27 L1726.11,383.96 L1729.08,384.64 L1732.05,385.32 L1735.02,386.01 L1737.99,386.69 L1740.96,387.38 L1743.92,388.06 L1746.89,388.75 L1749.86,389.43 L1752.83,390.12 L1755.80,390.80 L1758.77,391.49 L1761.74,392.17 L1764.71,392.86 L1767.67,393.54 L1770.64,394.23 L1773.61,394.91 L1776.58,395.60 L1779.55,396.28 L1782.52,396.97 L1785.49,397.65 L1788.46,398.34 L1791.42,399.02 L1794.39,399.71 L1797.36,400.39 L1800.33,401.08 L1803.30,401.77 L1806.27,402.45 L1809.24,403.14 L1812.21,403.82 L1815.17,404.51 L1818.14,405.19 L1821.11,405.88 L1824.08,406.56 L1827.05,407.25 L1830.02,407.94 L1832.99,408.62 L1835.96,409.31 L1838.92,409.99 L1841.89,410.68 L1844.86,411.37 L1847.83,412.05 L1850.80,412.74 L1853.77,413.42 L1856.74,414.11 L1859.71,414.80 L1862.67,415.48 L1865.64,416.17 L1868.61,416.85 L1871.58,417.54 L1874.55,418.23 L1877.52,418.91 L1880.49,419.60 L1883.46,420.28 L1886.42,420.97 L1889.39,421.66 L1892.36,422.34 L1895.33,423.03 L1898.30,423.72 L1901.27,424.40 L1904.24,425.09 L1907.21,425.78 L1910.17,426.46 L1913.14,427.15 L1916.11,427.84 L1919.08,428.52 L1922.05,429.21 L1925.02,429.89 L1927.99,430.58 L1930.96,431.27 L1933.92,431.95 L1936.89,432.64 L1939.86,433.33 L1942.83,434.01 L1945.80,434.70 L1948.77,435.39 L1951.74,436.07 L1954.71,436.76 L1957.67,437.45 L1960.64,438.13 L1963.61,438.82 L1966.58,439.51 L1969.55,440.20 L1972.52,440.88 L1975.49,441.57 L1978.46,442.26 L1981.42,442.94 L1984.39,443.63 L1987.36,444.32 L1990.33,445.00 L1993.30,445.69 L1996.27,446.38 L1999.24,447.06 L2002.21,447.75 L2005.17,448.44 L2008.14,449.13 L2011.11,449.81 L2014.08,450.50 L2017.05,451.19 L2020.02,451.87 L2022.99,452.56 L2025.96,453.25 L2028.92,453.93 L2031.89,454.62 L2034.86,455.31 L2037.83,456.00 L2040.80,456.68 L2043.77,457.37 L2046.74,458.06 L2049.71,458.75 L2052.68,459.43 L2055.64,460.12 L2058.61,460.81 L2061.58,461.49 L2064.55,462.18 L2067.52,462.87 L2070.49,463.56 L2073.46,464.24 L2076.43,464.93 L2079.39,465.62 L2082.36,466.31 L2085.33,466.99 L2088.30,467.68 L2091.27,468.37 L2094.24,469.05 L2097.21,469.74 L2100.18,470.43" fill="none" stroke="#0000ff" stroke-width="2" stroke-linejoin="round" stroke-linecap="square"/>
<path d="M1209.55,304.63 L1212.52,304.61 L1215.49,304.56 L1218.46,304.47 L1221.42,304.36 L1224.39,304.20 L1227.36,304.02 L1230.33,303.81 L1233.30,303.57 L1236.27,303.30 L1239.24,303.00 L1242.21,302.68 L1245.17,302.34 L1248.14,301.97 L1251.11,301.59 L1254.08,301.18 L1257.05,300.76 L1260.02,300.32 L1262.99,299.87 L1265.96,299.40 L1268.92,298.92 L1271.89,298.43 L1274.86,297.92 L1277.83,297.41 L1280.80,296.88 L1283.77,296.35 L1286.74,295.81 L1289.71,295.26 L1292.67,294.70 L1295.64,294.14 L1298.61,293.57 L1301.58,292.99 L1304.55,292.41 L1307.52,291.82 L1310.49,291.23 L1313.46,290.64 L1316.42,290.04 L1319.39,289.43 L1322.36,288.82 L1325.33,288.21 L1328.30,287.60 L1331.27,286.98 L1334.24,286.36 L1337.21,285.74 L1340.17,285.11 L1343.14,284.48 L1346.11,283.85 L1349.08,283.22 L1352.05,282.58 L1355.02,281.95 L1357.99,281.31 L1360.96,280.67 L1363.92,280.02 L1366.89,279.38 L1369.86,278.74 L1372.83,278.09 L1375.80,277.44 L1378.77,276.79 L1381.74,276.14 L1384.71,275.49 L1387.67,274.84 L1390.64,274.18 L1393.61,273.53 L1396.58,272.87 L1399.55,272.21 L1402.52,271.56 L1405.49,270.90 L1408.46,270.24 L1411.42,269.58 L1414.39,268.91 L1417.36,268.25 L1420.33,267.59 L1423.30,266.93 L1426.27,266.26 L1429.24,265.60 L1432.21,264.93 L1435.17,264.27 L1438.14,263.60 L1441.11,262.93 L1444.08,262.26 L1447.05,261.60 L1450.02,260.93 L1452.99,260.26 L1455.96,259.59 L1458.92,258.92 L1461.89,258.25 L1464.86,257.58 L1467.83,256.91 L1470.80,256.24 L1473.77,255.56 L1476.74,254.89 L1479.71,254.22 L1482.67,253.55 L1485.64,252.87 L1488.61,252.20 L1491.58,251.52 L1494.55,250.85 L1497.52,250.18 L1500.49,249.50 L1503.46,248.83 L1506.42,248.15 L1509.39,247.47 L1512.36,246.80 L1515.33,246.12 L1518.30,245.45 L1521.27,244.77 L1524.24,244.09 L1527.21,243.42 L1530.17,242.74 L1533.14,242.06 L1536.11,241.38 L1539.08,240.70 L1542.05,240.03 L1545.02,239.35 L1547.99,238.67 L1550.96,237.99 L1553.92,237.31 L1556.89,236.63 L1559.86,235.95 L1562.83,235.28 L1565.80,234.60 L1568.77,233.92 L1571.74,233.24 L1574.71,232.56 L1577.67,231.88 L1580.64,231.20 L1583.61,230.52 L1586.58,229.84 L1589.55,229.15 L1592.52,228.47 L1595.49,227.79 L1598.46,227.11 L1601.42,226.43 L1604.39,225.75 L1607.36,225.07 L1610.33,224.39 L1613.30,223.71 L1616.27,223.02 L1619.24,222.34 L1622.21,221.66 L1625.17,220.98 L1628.14,220.30 L1631.11,219.61 L1634.08,218.93 L1637.05,218.25 L1640.02,217.57 L1642.99,216.88 L1645.96,216.20 L1648.92,215.52 L1651.89,214.84 L1654.86,214.15 L1657.83,213.47 L1660.80,212.79 L1663.77,212.10 L1666.74,211.42 L1669.71,210.74 L1672.67,210.06 L1675.64,209.37 L1678.61,208.69 L1681.58,208.00 L1684.55,207.32 L1687.52,206.64 L1690.49,205.95 L1693.46,205.27 L1696.42,204.59 L1699.39,203.90 L1702.36,203.22 L1705.33,202.53 L1708.30,201.85 L1711.27,201.17 L1714.24,200.48 L1717.21,199.80 L1720.17,199.11 L1723.14,198.43 L1726.11,197.74 L1729.08,197.06 L1732.05,196.38 L1735.02,195.69 L1737.99,195.01 L1740.96,194.32 L1743.92,193.64 L1746.89,192.95 L1749.86,192.27 L1752.83,191.58 L1755.80,190.90 L1758.77,190.21 L1761.74,189.53 L1764.71,188.84 L1767.67,188.16 L1770.64,187.47 L1773.61,186.79 L1776.58,186.10 L1779.55,185.42 L1782.52,184.73 L1785.49,184.05 L1788.46,183.36 L1791.42,182.68 L1794.39,181.99 L1797.36,181.31 L1800.33,180.62 L1803.30,179.93 L1806.27,179.25 L1809.24,178.56 L1812.21,177.88 L1815.17,177.19 L1818.14,176.51 L1821.11,175.82 L1824.08,175.14 L1827.05,174.45 L1830.02,173.76 L1832.99,173.08 L1835.96,172.39 L1838.92,171.71 L1841.89,171.02 L1844.86,170.33 L1847.83,169.65 L1850.80,168.96 L1853.77,168.28 L1856.74,167.59 L1859.71,166.90 L1862.67,166.22 L1865.64,165.53 L1868.61,164.85 L1871.58,164.16 L1874.55,163.47 L1877.52,162.79 L1880.49,162.10 L1883.46,161.42 L1886.42,160.73 L1889.39,160.04 L1892.36,159.36 L1895.33,158.67 L1898.30,157.98 L1901.27,157.30 L1904.24,156.61 L1907.21,155.92 L1910.17,155.24 L1913.14,154.55 L1916.11,153.86 L1919.08,153.18 L1922.05,152.49 L1925.02,151.81 L1927.99,151.12 L1930.96,150.43 L1933.92,149.75 L1936.89,149.06 L1939.86,148.37 L1942.83,147.69 L1945.80,147.00 L1948.77,146.31 L1951.74,145.63 L1954.71,144.94 L1957.67,144.25 L1960.64,143.57 L1963.61,142.88 L1966.58,142.19 L1969.55,141.50 L1972.52,140.82 L1975.49,140.13 L1978.46,139.44 L1981.42,138.76 L1984.39,138.07 L1987.36,137.38 L1990.33,136.70 L1993.30,136.01 L1996.27,135.32 L1999.24,134.64 L2002.21,133.95 L2005.17,133.26 L2008.14,132.57 L2011.11,131.89 L2014.08,131.20 L2017.05,130.51 L2020.02,129.83 L2022.99,129.14 L2025.96,128.45 L2028.92,127.77 L2031.89,127.08 L2034.86,126.39 L2037.83,125.70 L2040.80,125.02 L2043.77,124.33 L2046.74,123.64 L2049.71,122.95 L2052.68,122.27 L2055.64,121.58 L2058.61,120.89 L2061.58,120.21 L2064.55,119.52 L2067.52,118.83 L2070.49,118.14 L2073.46,117.46 L2076.43,116.77 L2079.39,116.08 L2082.36,115.39 L2085.33,114.71 L2088.30,114.02 L2091.27,113.33 L2094.24,112.65 L2097.21,111.96 L2100.18,111.27" fill="none" stroke="#0000ff" stroke-width="2" stroke-linejoin="round" stroke-linecap="square"/>
<path d="M1209.55,332.19 L1212.52,332.20 L1215.49,332.25 L1218.46,332.34 L1221.42,332.46 L1224.39,332.61 L1227.36,332.79 L1230.33,333.01 L1233.30,333.25 L1236.27,333.52 L1239.24,333.81 L1242.21,334.13 L1245.17,334.48 L1248.14,334.84 L1251.11,335.23 L1254.08,335.63 L1257.05,336.05 L1260.02,336.49 L1262.99,336.94 L1265.96,337.41 L1268.92,337.89 L1271.89,338.39 L1274.86,338.89 L1277.83,339.41 L1280.80,339.93 L1283.77,340.46 L1286.74,341.01 L1289.71,341.56 L1292.67,342.11 L1295.64,342.68 L1298.61,343.25 L1301.58,343.82 L1304.55,344.40 L1307.52,344.99 L1310.49,345.58 L1313.46,346.18 L1316.42,346.78 L1319.39,347.38 L1322.36,347.99 L1325.33,348.60 L1328.30,349.22 L1331.27,349.83 L1334.24,350.45 L1337.21,351.08 L1340.17,351.70 L1343.14,352.33 L1346.11,352.96 L1349.08,353.60 L1352.05,354.23 L1355.02,354.87 L1357.99,355.51 L1360.96,356.15 L1363.92,356.79 L1366.89,357.43 L1369.86,358.08 L1372.83,358.73 L1375.80,359.37 L1378.77,360.02 L1381.74,360.67 L1384.71,361.33 L1387.67,361.98 L1390.64,362.63 L1393.61,363.29 L1396.58,363.94 L1399.55,364.60 L1402.52,365.26 L1405.49,365.92 L1408.46,366.58 L1411.42,367.24 L1414.39,367.90 L1417.36,368.56 L1420.33,369.22 L1423.30,369.89 L1426.27,370.55 L1429.24,371.22 L1432.21,371.88 L1435.17,372.55 L1438.14,373.21 L1441.11,373.88 L1444.08,374.55 L1447.05,375.22 L1450.02,375.89 L1452.99,376.55 L1455.96,377.22 L1458.92,377.89 L1461.89,378.56 L1464.86,379.24 L1467.83,379.91 L1470.80,380.58 L1473.77,381.25 L1476.74,381.92 L1479.71,382.60 L1482.67,383.27 L1485.64,383.94 L1488.61,384.62 L1491.58,385.29 L1494.55,385.96 L1497.52,386.64 L1500.49,387.31 L1503.46,387.99 L1506.42,388.66 L1509.39,389.34 L1512.36,390.02 L1515.33,390.69 L1518.30,391.37 L1521.27,392.04 L1524.24,392.72 L1527.21,393.40 L1530.17,394.08 L1533.14,394.75 L1536.11,395.43 L1539.08,396.11 L1542.05,396.79 L1545.02,397.47 L1547.99,398.14 L1550.96,398.82 L1553.92,399.50 L1556.89,400.18 L1559.86,400.86 L1562.83,401.54 L1565.80,402.22 L1568.77,402.90 L1571.74,403.58 L1574.71,404.26 L1577.67,404.94 L1580.64,405.62 L1583.61,406.30 L1586.58,406.98 L1589.55,407.66 L1592.52,408.34 L1595.49,409.02 L1598.46,409.70 L1601.42,410.38 L1604.39,411.06 L1607.36,411.75 L1610.33,412.43 L1613.30,413.11 L1616.27,413.79 L1619.24,414.47 L1622.21,415.15 L1625.17,415.84 L1628.14,416.52 L1631.11,417.20 L1634.08,417.88 L1637.05,418.56 L1640.02,419.25 L1642.99,419.93 L1645.96,420.61 L1648.92,421.29 L1651.89,421.98 L1654.86,422.66 L1657.83,423.34 L1660.80,424.03 L1663.77,424.71 L1666.74,425.39 L1669.71,426.08 L1672.67,426.76 L1675.64,427.44 L1678.61,428.13 L1681.58,428.81 L1684.55,429.49 L1687.52,430.18 L1690.49,430.86 L1693.46,431.54 L1696.42,432.23 L1699.39,432.91 L1702.36,433.60 L1705.33,434.28 L1708.30,434.96 L1711.27,435.65 L1714.24,436.33 L1717.21,437.02 L1720.17,437.70 L1723.14,438.38 L1726.11,439.07 L1729.08,439.75 L1732.05,440.44 L1735.02,441.12 L1737.99,441.81 L1740.96,442.49 L1743.92,443.18 L1746.89,443.86 L1749.86,444.55 L1752.83,445.23 L1755.80,445.92 L1758.77,446.60 L1761.74,447.29 L1764.71,447.97 L1767.67,448.66 L1770.64,449.34 L1773.61,450.03 L1776.58,450.71 L1779.55,451.40 L1782.52,452.08 L1785.49,452.77 L1788.46,453.45 L1791.42,454.14 L1794.39,454.82 L1797.36,455.51 L1800.33,456.19 L1803.30,456.88 L1806.27,457.56 L1809.24,458.25 L1812.21,458.94 L1815.17,459.62 L1818.14,460.31 L1821.11,460.99 L1824.08,461.68 L1827.05,462.36 L1830.02,463.05 L1832.99,463.74 L1835.96,464.42 L1838.92,465.11 L1841.89,465.79 L1844.86,466.48 L1847.83,467.17 L1850.80,467.85 L1853.77,468.54 L1856.74,469.22 L1859.71,469.91 L1862.67,470.60 L1865.64,471.28 L1868.61,471.97 L1871.58,472.65 L1874.55,473.34 L1877.52,474.03 L1880.49,474.71 L1883.46,475.40 L1886.42,476.09 L1889.39,476.77 L1892.36,477.46 L1895.33,478.14 L1898.30,478.83 L1901.27,479.52 L1904.24,480.20 L1907.21,480.89 L1910.17,481.58 L1913.14,482.26 L1916.11,482.95 L1919.08,483.64 L1922.05,484.32 L1925.02,485.01 L1927.99,485.70 L1930.96,486.38 L1933.92,487.07 L1936.89,487.76 L1939.86,488.44 L1942.83,489.13 L1945.80,489.82 L1948.77,490.50 L1951.74,491.19 L1954.71,491.88 L1957.67,492.56 L1960.64,493.25 L1963.61,493.94 L1966.58,494.62 L1969.55,495.31 L1972.52,496.00 L1975.49,496.68 L1978.46,497.37 L1981.42,498.06 L1984.39,498.74 L1987.36,499.43 L1990.33,500.12 L1993.30,500.80 L1996.27,501.49 L1999.24,502.18 L2002.21,502.87 L2005.17,503.55 L2008.14,504.24 L2011.11,504.93 L2014.08,505.61 L2017.05,506.30 L2020.02,506.99 L2022.99,507.67 L2025.96,508.36 L2028.92,509.05 L2031.89,509.74 L2034.86,510.42 L2037.83,511.11 L2040.80,511.80 L2043.77,512.48 L2046.74,513.17 L2049.71,513.86 L2052.68,514.55 L2055.64,515.23 L2058.61,515.92 L2061.58,516.61 L2064.55,517.30 L2067.52,517.98 L2070.49,518.67 L2073.46,519.36 L2076.43,520.04 L2079.39,520.73 L2082.36,521.42 L2085.33,522.11 L2088.30,522.79 L2091.27,523.48 L2094.24,524.17 L2097.21,524.86 L2100.18,525.54" fill="none" stroke="#0000ff" stroke-width="2" stroke-linejoin="round" stroke-linecap="square"/>
<path d="M1209.55,359.74 L1212.52,359.73 L1215.49,359.67 L1218.46,359.59 L1221.42,359.47 L1224.39,359.32 L1227.36,359.14 L1230.33,358.92 L1233.30,358.68 L1236.27,358.41 L1239.24,358.12 L1242.21,357.80 L1245.17,357.45 L1248.14,357.09 L1251.11,356.70 L1254.08,356.30 L1257.05,355.88 L1260.02,355.44 L1262.99,354.98 L1265.96,354.52 L1268.92,354.04 L1271.89,353.54 L1274.86,353.04 L1277.83,352.52 L1280.80,352.00 L1283.77,351.46 L1286.74,350.92 L1289.71,350.37 L1292.67,349.82 L1295.64,349.25 L1298.61,348.68 L1301.58,348.11 L1304.55,347.52 L1307.52,346.94 L1310.49,346.35 L1313.46,345.75 L1316.42,345.15 L1319.39,344.55 L1322.36,343.94 L1325.33,343.33 L1328.30,342.71 L1331.27,342.09 L1334.24,341.47 L1337.21,340.85 L1340.17,340.22 L1343.14,339.60 L1346.11,338.96 L1349.08,338.33 L1352.05,337.70 L1355.02,337.06 L1357.99,336.42 L1360.96,335.78 L1363.92,335.14 L1366.89,334.49 L1369.86,333.85 L1372.83,333.20 L1375.80,332.55 L1378.77,331.91 L1381.74,331.25 L1384.71,330.60 L1387.67,329.95 L1390.64,329.30 L1393.61,328.64 L1396.58,327.98 L1399.55,327.33 L1402.52,326.67 L1405.49,326.01 L1408.46,325.35 L1411.42,324.69 L1414.39,324.03 L1417.36,323.37 L1420.33,322.70 L1423.30,322.04 L1426.27,321.38 L1429.24,320.71 L1432.21,320.05 L1435.17,319.38 L1438.14,318.71 L1441.11,318.05 L1444.08,317.38 L1447.05,316.71 L1450.02,316.04 L1452.99,315.37 L1455.96,314.70 L1458.92,314.03 L1461.89,313.36 L1464.86,312.69 L1467.83,312.02 L1470.80,311.35 L1473.77,310.68 L1476.74,310.01 L1479.71,309.33 L1482.67,308.66 L1485.64,307.99 L1488.61,307.31 L1491.58,306.64 L1494.55,305.96 L1497.52,305.29 L1500.49,304.61 L1503.46,303.94 L1506.42,303.26 L1509.39,302.59 L1512.36,301.91 L1515.33,301.24 L1518.30,300.56 L1521.27,299.88 L1524.24,299.21 L1527.21,298.53 L1530.17,297.85 L1533.14,297.17 L1536.11,296.50 L1539.08,295.82 L1542.05,295.14 L1545.02,294.46 L1547.99,293.78 L1550.96,293.11 L1553.92,292.43 L1556.89,291.75 L1559.86,291.07 L1562.83,290.39 L1565.80,289.71 L1568.77,289.03 L1571.74,288.35 L1574.71,287.67 L1577.67,286.99 L1580.64,286.31 L1583.61,285.63 L1586.58,284.95 L1589.55,284.27 L1592.52,283.59 L1595.49,282.91 L1598.46,282.23 L1601.42,281.54 L1604.39,280.86 L1607.36,280.18 L1610.33,279.50 L1613.30,278.82 L1616.27,278.14 L1619.24,277.46 L1622.21,276.77 L1625.17,276.09 L1628.14,275.41 L1631.11,274.73 L1634.08,274.05 L1637.05,273.36 L1640.02,272.68 L1642.99,272.00 L1645.96,271.32 L1648.92,270.63 L1651.89,269.95 L1654.86,269.27 L1657.83,268.58 L1660.80,267.90 L1663.77,267.22 L1666.74,266.54 L1669.71,265.85 L1672.67,265.17 L1675.64,264.49 L1678.61,263.80 L1681.58,263.12 L1684.55,262.44 L1687.52,261.75 L1690.49,261.07 L1693.46,260.38 L1696.42,259.70 L1699.39,259.02 L1702.36,258.33 L1705.33,257.65 L1708.30,256.96 L1711.27,256.28 L1714.24,255.60 L1717.21,254.91 L1720.17,254.23 L1723.14,253.54 L1726.11,252.86 L1729.08,252.17 L1732.05,251.49 L1735.02,250.81 L1737.99,250.12 L1740.96,249.44 L1743.92,248.75 L1746.89,248.07 L1749.86,247.38 L1752.83,246.70 L1755.80,246.01 L1758.77,245.33 L1761.74,244.64 L1764.71,243.96 L1767.67,243.27 L1770.64,242.59 L1773.61,241.90 L1776.58,241.22 L1779.55,240.53 L1782.52,239.85 L1785.49,239.16 L1788.46,238.48 L1791.42,237.79 L1794.39,237.11 L1797.36,236.42 L1800.33,235.73 L1803.30,235.05 L1806.27,234.36 L1809.24,233.68 L1812.21,232.99 L1815.17,232.31 L1818.14,231.62 L1821.11,230.94 L1824.08,230.25 L1827.05,229.56 L1830.02,228.88 L1832.99,228.19 L1835.96,227.51 L1838.92,226.82 L1841.89,226.13 L1844.86,225.45 L1847.83,224.76 L1850.80,224.08 L1853.77,223.39 L1856.74,222.70 L1859.71,222.02 L1862.67,221.33 L1865.64,220.65 L1868.61,219.96 L1871.58,219.27 L1874.55,218.59 L1877.52,217.90 L1880.49,217.22 L1883.46,216.53 L1886.42,215.84 L1889.39,215.16 L1892.36,214.47 L1895.33,213.78 L1898.30,213.10 L1901.27,212.41 L1904.24,211.72 L1907.21,211.04 L1910.17,210.35 L1913.14,209.67 L1916.11,208.98 L1919.08,208.29 L1922.05,207.61 L1925.02,206.92 L1927.99,206.23 L1930.96,205.55 L1933.92,204.86 L1936.89,204.17 L1939.86,203.49 L1942.83,202.80 L1945.80,202.11 L1948.77,201.43 L1951.74,200.74 L1954.71,200.05 L1957.67,199.37 L1960.64,198.68 L1963.61,197.99 L1966.58,197.31 L1969.55,196.62 L1972.52,195.93 L1975.49,195.25 L1978.46,194.56 L1981.42,193.87 L1984.39,193.18 L1987.36,192.50 L1990.33,191.81 L1993.30,191.12 L1996.27,190.44 L1999.24,189.75 L2002.21,189.06 L2005.17,188.38 L2008.14,187.69 L2011.11,187.00 L2014.08,186.31 L2017.05,185.63 L2020.02,184.94 L2022.99,184.25 L2025.96,183.57 L2028.92,182.88 L2031.89,182.19 L2034.86,181.50 L2037.83,180.82 L2040.80,180.13 L2043.77,179.44 L2046.74,178.76 L2049.71,178.07 L2052.68,177.38 L2055.64,176.69 L2058.61,176.01 L2061.58,175.32 L2064.55,174.63 L2067.52,173.95 L2070.49,173.26 L2073.46,172.57 L2076.43,171.88 L2079.39,171.20 L2082.36,170.51 L2085.33,169.82 L2088.30,169.13 L2091.27,168.45 L2094.24,167.76 L2097.21,167.07 L2100.18,166.38" fill="none" stroke="#0000ff" stroke-width="2" stroke-linejoin="round" stroke-linecap="square"/>
<path d="M1209.55,387.30 L1212.52,387.32 L1215.49,387.37 L1218.46,387.45 L1221.42,387.57 L1224.39,387.72 L1227.36,387.91 L1230.33,388.12 L1233.30,388.36 L1236.27,388.63 L1239.24,388.93 L1242.21,389.25 L1245.17,389.59 L1248.14,389.95 L1251.11,390.34 L1254.08,390.74 L1257.05,391.17 L1260.02,391.60 L1262.99,392.06 L1265.96,392.53 L1268.92,393.01 L1271.89,393.50 L1274.86,394.00 L1277.83,394.52 L1280.80,395.04 L1283.77,395.58 L1286.74,396.12 L1289.71,396.67 L1292.67,397.23 L1295.64,397.79 L1298.61,398.36 L1301.58,398.94 L1304.55,399.52 L1307.52,400.10 L1310.49,400.70 L1313.46,401.29 L1316.42,401.89 L1319.39,402.50 L1322.36,403.10 L1325.33,403.72 L1328.30,404.33 L1331.27,404.95 L1334.24,405.57 L1337.21,406.19 L1340.17,406.82 L1343.14,407.45 L1346.11,408.08 L1349.08,408.71 L1352.05,409.35 L1355.02,409.98 L1357.99,410.62 L1360.96,411.26 L1363.92,411.90 L1366.89,412.55 L1369.86,413.19 L1372.83,413.84 L1375.80,414.49 L1378.77,415.14 L1381.74,415.79 L1384.71,416.44 L1387.67,417.09 L1390.64,417.75 L1393.61,418.40 L1396.58,419.06 L1399.55,419.71 L1402.52,420.37 L1405.49,421.03 L1408.46,421.69 L1411.42,422.35 L1414.39,423.01 L1417.36,423.68 L1420.33,424.34 L1423.30,425.00 L1426.27,425.67 L1429.24,426.33 L1432.21,427.00 L1435.17,427.66 L1438.14,428.33 L1441.11,429.00 L1444.08,429.66 L1447.05,430.33 L1450.02,431.00 L1452.99,431.67 L1455.96,432.34 L1458.92,433.01 L1461.89,433.68 L1464.86,434.35 L1467.83,435.02 L1470.80,435.69 L1473.77,436.36 L1476.74,437.04 L1479.71,437.71 L1482.67,438.38 L1485.64,439.06 L1488.61,439.73 L1491.58,440.40 L1494.55,441.08 L1497.52,441.75 L1500.49,442.43 L1503.46,443.10 L1506.42,443.78 L1509.39,444.45 L1512.36,445.13 L1515.33,445.81 L1518.30,446.48 L1521.27,447.16 L1524.24,447.84 L1527.21,448.51 L1530.17,449.19 L1533.14,449.87 L1536.11,450.55 L1539.08,451.22 L1542.05,451.90 L1545.02,452.58 L1547.99,453.26 L1550.96,453.94 L1553.92,454.62 L1556.89,455.29 L1559.86,455.97 L1562.83,456.65 L1565.80,457.33 L1568.77,458.01 L1571.74,458.69 L1574.71,459.37 L1577.67,460.05 L1580.64,460.73 L1583.61,461.41 L1586.58,462.09 L1589.55,462.77 L1592.52,463.45 L1595.49,464.13 L1598.46,464.82 L1601.42,465.50 L1604.39,466.18 L1607.36,466.86 L1610.33,467.54 L1613.30,468.22 L1616.27,468.90 L1619.24,469.59 L1622.21,470.27 L1625.17,470.95 L1628.14,471.63 L1631.11,472.31 L1634.08,473.00 L1637.05,473.68 L1640.02,474.36 L1642.99,475.04 L1645.96,475.73 L1648.92,476.41 L1651.89,477.09 L1654.86,477.77 L1657.83,478.46 L1660.80,479.14 L1663.77,479.82 L1666.74,480.51 L1669.71,481.19 L1672.67,481.87 L1675.64,482.56 L1678.61,483.24 L1681.58,483.92 L1684.55,484.61 L1687.52,485.29 L1690.49,485.97 L1693.46,486.66 L1696.42,487.34 L1699.39,488.03 L1702.36,488.71 L1705.33,489.39 L1708.30,490.08 L1711.27,490.76 L1714.24,491.45 L1717.21,492.13 L1720.17,492.81 L1723.14,493.50 L1726.11,494.18 L1729.08,494.87 L1732.05,495.55 L1735.02,496.24 L1737.99,496.92 L1740.96,497.61 L1743.92,498.29 L1746.89,498.98 L1749.86,499.66 L1752.83,500.34 L1755.80,501.03 L1758.77,501.71 L1761.74,502.40 L1764.71,503.08 L1767.67,503.77 L1770.64,504.45 L1773.61,505.14 L1776.58,505.83 L1779.55,506.51 L1782.52,507.20 L1785.49,507.88 L1788.46,508.57 L1791.42,509.25 L1794.39,509.94 L1797.36,510.62 L1800.33,511.31 L1803.30,511.99 L1806.27,512.68 L1809.24,513.36 L1812.21,514.05 L1815.17,514.74 L1818.14,515.42 L1821.11,516.11 L1824.08,516.79 L1827.05,517.48 L1830.02,518.16 L1832.99,518.85 L1835.96,519.54 L1838.92,520.22 L1841.89,520.91 L1844.86,521.59 L1847.83,522.28 L1850.80,522.97 L1853.77,523.65 L1856.74,524.34 L1859.71,525.02 L1862.67,525.71 L1865.64,526.40 L1868.61,527.08 L1871.58,527.77 L1874.55,528.45 L1877.52,529.14 L1880.49,529.83 L1883.46,530.51 L1886.42,531.20 L1889.39,531.89 L1892.36,532.57 L1895.33,533.26 L1898.30,533.94 L1901.27,534.63 L1904.24,535.32 L1907.21,536.00 L1910.17,536.69 L1913.14,537.38 L1916.11,538.06 L1919.08,538.75 L1922.05,539.44 L1925.02,540.12 L1927.99,540.81 L1930.96,541.50 L1933.92,542.18 L1936.89,542.87 L1939.86,543.56 L1942.83,544.24 L1945.80,544.93 L1948.77,545.62 L1951.74,546.30 L1954.71,546.99 L1957.67,547.68 L1960.64,548.36 L1963.61,549.05 L1966.58,549.74 L1969.55,550.42 L1972.52,551.11 L1975.49,551.80 L1978.46,552.48 L1981.42,553.17 L1984.39,553.86 L1987.36,554.54 L1990.33,555.23 L1993.30,555.92 L1996.27,556.61 L1999.24,557.29 L2002.21,557.98 L2005.17,558.67 L2008.14,559.35 L2011.11,560.04 L2014.08,560.73 L2017.05,561.41 L2020.02,562.10 L2022.99,562.79 L2025.96,563.48 L2028.92,564.16 L2031.89,564.85 L2034.86,565.54 L2037.83,566.22 L2038.68,566.42" fill="none" stroke="#0000ff" stroke-width="2" stroke-linejoin="round" stroke-linecap="square"/>
<g font-family="'Liberation Sans', sans-serif" font-size="44" fill="#000"><text y="30.76"><tspan x="1157.71">1</tspan><tspan x="1179.68">0</tspan></text><text y="168.14"><tspan x="1179.68">5</tspan></text><text y="305.53"><tspan x="1179.68">0</tspan></text><text y="443.31"><tspan x="1156.04" dy="2.8" font-size="41.5">−</tspan><tspan x="1179.68" dy="-2.8">5</tspan></text><text y="581.10"><tspan x="1131.57" dy="2.8" font-size="41.5">−</tspan><tspan x="1157.71" dy="-2.8">1</tspan><tspan x="1179.68">0</tspan></text><text x="1197.31" y="610.5">0</text><text x="1317.86" y="610.5">1</text><text x="1434.81" y="610.5">2</text><text x="1553.56" y="610.5">3</text><text x="1672.31" y="610.5">4</text><text x="1791.06" y="610.5">5</text><text x="1909.81" y="610.5">6</text><text x="2028.56" y="610.5">7</text></g>
<g fill="#fff"><rect x="1159.86" y="26.47" width="8.91" height="5.29"/><rect x="1172.66" y="26.47" width="8.57" height="5.29"/><rect x="1159.86" y="576.81" width="8.91" height="5.29"/><rect x="1172.66" y="576.81" width="8.57" height="5.29"/><rect x="1320.02" y="606.21" width="8.91" height="5.29"/><rect x="1332.82" y="606.21" width="8.57" height="5.29"/></g>
<rect x="1252.50" y="45.10" width="151.10" height="51.50" fill="none" stroke="#000" stroke-width="2"/>
<text transform="translate(1260.67,82.80) scale(0.9528,1)" font-family="'Liberation Sans', sans-serif" font-size="32.4" fill="#000">Final time</text>
<rect x="1541.00" y="100.30" width="49.50" height="51.10" rx="17.5" ry="17.5" fill="none" stroke="#0000ff" stroke-width="2"/>
<rect x="1549.10" y="121.60" width="31.60" height="22.3" fill="#fff"/>
<text transform="translate(1550.76,138.20) scale(1.0155,1)" font-family="'Liberation Sans', sans-serif" font-size="31" font-style="italic" fill="#0000ff" stroke="#0000ff" stroke-width="0.25">μ</text>
<text transform="translate(1567.80,142.50) scale(0.95,1.035)" font-family="'Liberation Sans', sans-serif" font-size="22.5" fill="#0000ff">1</text>
<g fill="#fff"><rect x="1568.43" y="139.96" width="4.75" height="3.34"/><rect x="1575.06" y="139.96" width="4.58" height="3.34"/></g>
<rect x="1897.30" y="348.00" width="49.10" height="51.00" rx="17.5" ry="17.5" fill="none" stroke="#0000ff" stroke-width="2"/>
<rect x="1905.40" y="369.30" width="31.20" height="22.3" fill="#fff"/>
<text transform="translate(1907.06,385.90) scale(1.0155,1)" font-family="'Liberation Sans', sans-serif" font-size="31" font-style="italic" fill="#0000ff" stroke="#0000ff" stroke-width="0.25">μ</text>
<text transform="translate(1923.10,390.20) scale(0.95,1.035)" font-family="'Liberation Sans', sans-serif" font-size="22.5" fill="#0000ff">2</text>
<rect x="1659.45" y="127.30" width="49.55" height="51.70" rx="17.5" ry="17.5" fill="none" stroke="#0000ff" stroke-width="2"/>
<rect x="1667.55" y="148.60" width="31.65" height="22.3" fill="#fff"/>
<text transform="translate(1669.21,165.20) scale(1.0155,1)" font-family="'Liberation Sans', sans-serif" font-size="31" font-style="italic" fill="#0000ff" stroke="#0000ff" stroke-width="0.25">μ</text>
<text transform="translate(1685.25,169.50) scale(0.95,1.035)" font-family="'Liberation Sans', sans-serif" font-size="22.5" fill="#0000ff">3</text>
<rect x="1778.40" y="375.30" width="49.00" height="51.20" rx="17.5" ry="17.5" fill="none" stroke="#0000ff" stroke-width="2"/>
<rect x="1786.50" y="396.60" width="31.10" height="22.3" fill="#fff"/>
<text transform="translate(1788.16,413.20) scale(1.0155,1)" font-family="'Liberation Sans', sans-serif" font-size="31" font-style="italic" fill="#0000ff" stroke="#0000ff" stroke-width="0.25">μ</text>
<text transform="translate(1804.20,417.50) scale(0.95,1.035)" font-family="'Liberation Sans', sans-serif" font-size="22.5" fill="#0000ff">4</text>
<rect x="1778.40" y="155.30" width="49.00" height="51.10" rx="17.5" ry="17.5" fill="none" stroke="#0000ff" stroke-width="2"/>
<rect x="1786.50" y="176.60" width="31.10" height="22.3" fill="#fff"/>
<text transform="translate(1788.16,193.20) scale(1.0155,1)" font-family="'Liberation Sans', sans-serif" font-size="31" font-style="italic" fill="#0000ff" stroke="#0000ff" stroke-width="0.25">μ</text>
<text transform="translate(1804.20,197.50) scale(0.95,1.035)" font-family="'Liberation Sans', sans-serif" font-size="22.5" fill="#0000ff">5</text>
<rect x="1659.45" y="403.00" width="49.55" height="51.30" rx="17.5" ry="17.5" fill="none" stroke="#0000ff" stroke-width="2"/>
<rect x="1667.55" y="424.30" width="31.65" height="22.3" fill="#fff"/>
<text transform="translate(1669.21,440.90) scale(1.0155,1)" font-family="'Liberation Sans', sans-serif" font-size="31" font-style="italic" fill="#0000ff" stroke="#0000ff" stroke-width="0.25">μ</text>
<text transform="translate(1685.25,445.20) scale(0.95,1.035)" font-family="'Liberation Sans', sans-serif" font-size="22.5" fill="#0000ff">6</text>
<rect x="1897.30" y="182.70" width="49.10" height="51.30" rx="17.5" ry="17.5" fill="none" stroke="#0000ff" stroke-width="2"/>
<rect x="1905.40" y="204.00" width="31.20" height="22.3" fill="#fff"/>
<text transform="translate(1907.06,220.60) scale(1.0155,1)" font-family="'Liberation Sans', sans-serif" font-size="31" font-style="italic" fill="#0000ff" stroke="#0000ff" stroke-width="0.25">μ</text>
<text transform="translate(1923.10,224.90) scale(0.95,1.035)" font-family="'Liberation Sans', sans-serif" font-size="22.5" fill="#0000ff">7</text>
<rect x="1541.00" y="430.50" width="49.50" height="50.90" rx="17.5" ry="17.5" fill="none" stroke="#0000ff" stroke-width="2"/>
<rect x="1549.10" y="451.80" width="31.60" height="22.3" fill="#fff"/>
<text transform="translate(1550.76,468.40) scale(1.0155,1)" font-family="'Liberation Sans', sans-serif" font-size="31" font-style="italic" fill="#0000ff" stroke="#0000ff" stroke-width="0.25">μ</text>
<text transform="translate(1566.80,472.70) scale(0.95,1.035)" font-family="'Liberation Sans', sans-serif" font-size="22.5" fill="#0000ff">8</text>
<text transform="translate(1376.38,669.80) scale(0.9920,1.015)" font-family="'Liberation Sans', sans-serif" font-size="42.6" fill="#000">Scaled Coupling Strength</text>
<text transform="translate(1869.96,669.80) scale(0.9282,1.015)" font-family="'Liberation Sans', sans-serif" font-size="42.6" font-style="italic" fill="#000">γ</text>
<text transform="translate(1891.90,669.80) scale(1.0179,1.015)" font-family="'Liberation Sans', sans-serif" font-size="42.6" fill="#000">/Δ</text>
<text transform="translate(1110.20,539.74) rotate(-90) scale(0.9848,1.01)" font-family="'Liberation Sans', sans-serif" font-size="43.2" fill="#000">Eigenvalues</text>
<text transform="translate(1110.20,295.70) rotate(-90) scale(1.0705,1.01)" font-family="'Liberation Sans', sans-serif" font-size="43.2" font-style="italic" fill="#000">λ</text>
<text transform="translate(1117.00,273.69) rotate(-90) scale(1.0065,1)" font-family="'Liberation Sans', sans-serif" font-size="29.5" font-style="italic" fill="#000" stroke="#000" stroke-width="0.5">k</text>
<text transform="translate(1110.20,246.26) rotate(-90) scale(0.9935,1.01)" font-family="'Liberation Sans', sans-serif" font-size="43.2" fill="#000">(in units Δ)</text>
</svg>
</body></html>
